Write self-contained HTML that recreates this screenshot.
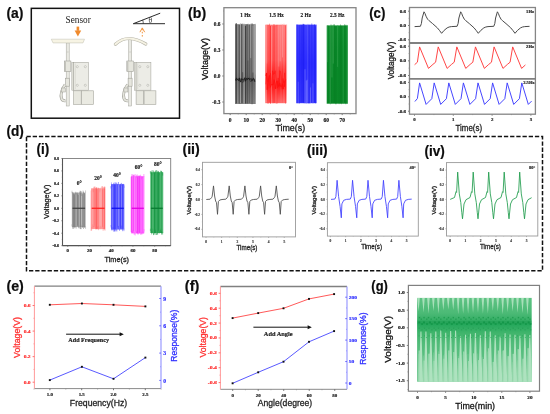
<!DOCTYPE html>
<html><head><meta charset="utf-8"><style>
html,body{margin:0;padding:0;background:#fff;width:550px;height:414px;overflow:hidden}
svg{display:block;will-change:transform;filter:blur(0.3px)}
</style></head><body>
<svg width="550" height="414" viewBox="0 0 550 414">
<rect width="550" height="414" fill="#fff"/>
<text x="6.43" y="17.83" font-size="14" font-family='"Liberation Sans", sans-serif' fill="#0d0d0d" text-anchor="start" font-weight="bold" textLength="17.04" lengthAdjust="spacingAndGlyphs" stroke="#0d0d0d" stroke-width="0.2">(a)</text>
<rect x="31.3" y="8.35" width="148.2" height="109.85" fill="none" stroke="#111" stroke-width="1.5"/>
<text x="65.6" y="23" font-size="9.8" font-family='"Liberation Serif", serif' fill="#1a1a1a" text-anchor="start" textLength="25.2" lengthAdjust="spacingAndGlyphs">Sensor</text>
<rect x="76.6" y="26.6" width="2.6" height="4.2" fill="#f08a2c"/>
<path d="M74.6,30.6 L81.2,30.6 L77.9,36.4" stroke="none" stroke-width="0" fill="#f08a2c"/>
<rect x="66.2" y="42.9" width="3" height="63.1" fill="#e9e9e3" stroke="#a4a49c" stroke-width="0.5"/>
<line x1="66.7" y1="52" x2="68.7" y2="52" stroke="#c0c0b8" stroke-width="0.6"/>
<rect x="71.8" y="62.3" width="2" height="27.9" fill="#e0e0d8" stroke="#a4a49c" stroke-width="0.45"/>
<rect x="73.6" y="62.3" width="14.8" height="27.9" fill="#ecece6" stroke="#a4a49c" stroke-width="0.55"/>
<line x1="75.2" y1="63.5" x2="75.2" y2="89" stroke="#c8c8c0" stroke-width="0.5"/>
<circle cx="77.3" cy="66.7" r="1.05" fill="#f2f2ee" stroke="#aaaaa2" stroke-width="0.5"/>
<circle cx="85.3" cy="66.7" r="1.05" fill="#f2f2ee" stroke="#aaaaa2" stroke-width="0.5"/>
<circle cx="77.3" cy="85.3" r="1.05" fill="#f2f2ee" stroke="#aaaaa2" stroke-width="0.5"/>
<circle cx="85.3" cy="85.3" r="1.05" fill="#f2f2ee" stroke="#aaaaa2" stroke-width="0.5"/>
<rect x="64.3" y="61" width="6.6" height="10.6" fill="#e6e6de" stroke="#9c9c94" stroke-width="0.55"/>
<line x1="65.3" y1="61.5" x2="65.3" y2="71.2" stroke="#b0b0a8" stroke-width="0.8"/>
<rect x="65.6" y="78.2" width="4" height="8" fill="#e6e6de" stroke="#9c9c94" stroke-width="0.55"/>
<rect x="73.6" y="90.8" width="7.6" height="13.6" fill="#e8e8e0" stroke="#a4a49c" stroke-width="0.6"/>
<rect x="81.6" y="90.8" width="11.8" height="13.6" fill="#eaeae2" stroke="#a4a49c" stroke-width="0.6"/>
<path d="M65.2,84.5 C62,89 60.2,95 61.5,98.5 C62.3,100.5 64,101 65.5,100.8" stroke="#a0a098" stroke-width="3" fill="none"/>
<path d="M65.2,84.5 C62,89 60.2,95 61.5,98.5 C62.3,100.5 64,101 65.5,100.8" stroke="#e4e4dc" stroke-width="1.9" fill="none"/>
<rect x="61.4" y="88" width="4" height="4" fill="#e2e2da" stroke="#a0a098" stroke-width="0.5"/>
<path d="M51.3,39.2 L84.5,39.2 L83,42.9 L53,42.9 L51.3,39.2" stroke="#bebcae" stroke-width="0.5" fill="#f7f4e4"/>
<rect x="128.7" y="39" width="3" height="67" fill="#e9e9e3" stroke="#a4a49c" stroke-width="0.5"/>
<line x1="129.2" y1="52" x2="131.2" y2="52" stroke="#c0c0b8" stroke-width="0.6"/>
<rect x="134.3" y="62.3" width="2" height="27.9" fill="#e0e0d8" stroke="#a4a49c" stroke-width="0.45"/>
<rect x="136.1" y="62.3" width="14.8" height="27.9" fill="#ecece6" stroke="#a4a49c" stroke-width="0.55"/>
<line x1="137.7" y1="63.5" x2="137.7" y2="89" stroke="#c8c8c0" stroke-width="0.5"/>
<circle cx="139.8" cy="66.7" r="1.05" fill="#f2f2ee" stroke="#aaaaa2" stroke-width="0.5"/>
<circle cx="147.8" cy="66.7" r="1.05" fill="#f2f2ee" stroke="#aaaaa2" stroke-width="0.5"/>
<circle cx="139.8" cy="85.3" r="1.05" fill="#f2f2ee" stroke="#aaaaa2" stroke-width="0.5"/>
<circle cx="147.8" cy="85.3" r="1.05" fill="#f2f2ee" stroke="#aaaaa2" stroke-width="0.5"/>
<rect x="126.8" y="61" width="6.6" height="10.6" fill="#e6e6de" stroke="#9c9c94" stroke-width="0.55"/>
<line x1="127.8" y1="61.5" x2="127.8" y2="71.2" stroke="#b0b0a8" stroke-width="0.8"/>
<rect x="128.1" y="78.2" width="4" height="8" fill="#e6e6de" stroke="#9c9c94" stroke-width="0.55"/>
<rect x="136.1" y="90.8" width="7.6" height="13.6" fill="#e8e8e0" stroke="#a4a49c" stroke-width="0.6"/>
<rect x="144.1" y="90.8" width="11.8" height="13.6" fill="#eaeae2" stroke="#a4a49c" stroke-width="0.6"/>
<path d="M127.7,84.5 C124.5,89 122.7,95 124,98.5 C124.8,100.5 126.5,101 128,100.8" stroke="#a0a098" stroke-width="3" fill="none"/>
<path d="M127.7,84.5 C124.5,89 122.7,95 124,98.5 C124.8,100.5 126.5,101 128,100.8" stroke="#e4e4dc" stroke-width="1.9" fill="none"/>
<rect x="123.9" y="88" width="4" height="4" fill="#e2e2da" stroke="#a0a098" stroke-width="0.5"/>
<path d="M115.4,44.2 C119,41 124,38.4 129.7,38.5 C135,38.6 141,41.2 145.8,44" stroke="#b8b6aa" stroke-width="3.2" fill="none" stroke-linecap="round"/>
<path d="M115.4,44.2 C119,41 124,38.4 129.7,38.5 C135,38.6 141,41.2 145.8,44" stroke="#f6f3e4" stroke-width="2" fill="none" stroke-linecap="round"/>
<line x1="133.3" y1="23.7" x2="165" y2="23.7" stroke="#2a2a2a" stroke-width="1"/>
<line x1="133.3" y1="23.7" x2="160.2" y2="13.2" stroke="#2a2a2a" stroke-width="1"/>
<path d="M143.3,23.7 A10,10 0 0 0 142.6,19.9" stroke="#2a2a2a" stroke-width="0.7" fill="none"/>
<text x="150.2" y="22.6" font-size="7.5" font-family='"Liberation Serif", serif' fill="#333" text-anchor="middle">θ</text>
<path d="M139.9,32.2 L142.3,27.9 L144.7,32.2" stroke="#f08a2c" stroke-width="0.9" fill="none"/>
<line x1="142.3" y1="28.6" x2="142.3" y2="37.6" stroke="#f08a2c" stroke-width="0.9" stroke-dasharray="1.6,1.6"/>
<text x="188.13" y="17.83" font-size="14" font-family='"Liberation Sans", sans-serif' fill="#0d0d0d" text-anchor="start" font-weight="bold" textLength="18.04" lengthAdjust="spacingAndGlyphs" stroke="#0d0d0d" stroke-width="0.2">(b)</text>
<line x1="222.3" y1="23.98" x2="223.9" y2="23.98" stroke="#555" stroke-width="0.8"/>
<text x="220.4" y="25.74" font-size="5.2" font-family='"Liberation Serif", serif' fill="#1a1a1a" text-anchor="end" font-weight="bold" textLength="6.63" lengthAdjust="spacingAndGlyphs" stroke="#1a1a1a" stroke-width="0.18">0.6</text>
<line x1="222.3" y1="49.99" x2="223.9" y2="49.99" stroke="#555" stroke-width="0.8"/>
<text x="220.4" y="51.75" font-size="5.2" font-family='"Liberation Serif", serif' fill="#1a1a1a" text-anchor="end" font-weight="bold" textLength="6.63" lengthAdjust="spacingAndGlyphs" stroke="#1a1a1a" stroke-width="0.18">0.3</text>
<line x1="222.3" y1="76" x2="223.9" y2="76" stroke="#555" stroke-width="0.8"/>
<text x="220.4" y="77.76" font-size="5.2" font-family='"Liberation Serif", serif' fill="#1a1a1a" text-anchor="end" font-weight="bold" textLength="6.63" lengthAdjust="spacingAndGlyphs" stroke="#1a1a1a" stroke-width="0.18">0.0</text>
<line x1="222.3" y1="102.01" x2="223.9" y2="102.01" stroke="#555" stroke-width="0.8"/>
<text x="220.4" y="103.77" font-size="5.2" font-family='"Liberation Serif", serif' fill="#1a1a1a" text-anchor="end" font-weight="bold" textLength="8.4" lengthAdjust="spacingAndGlyphs" stroke="#1a1a1a" stroke-width="0.18">-0.3</text>
<line x1="223" y1="10.97" x2="223.9" y2="10.97" stroke="#777" stroke-width="0.6"/>
<line x1="223" y1="36.98" x2="223.9" y2="36.98" stroke="#777" stroke-width="0.6"/>
<line x1="223" y1="62.99" x2="223.9" y2="62.99" stroke="#777" stroke-width="0.6"/>
<line x1="223" y1="89" x2="223.9" y2="89" stroke="#777" stroke-width="0.6"/>
<line x1="230.2" y1="113.6" x2="230.2" y2="115.1" stroke="#555" stroke-width="0.8"/>
<text x="230.2" y="121.76" font-size="5.5" font-family='"Liberation Serif", serif' fill="#1a1a1a" text-anchor="middle" font-weight="bold" textLength="2.75" lengthAdjust="spacingAndGlyphs" stroke="#1a1a1a" stroke-width="0.18">0</text>
<line x1="246.2" y1="113.6" x2="246.2" y2="115.1" stroke="#555" stroke-width="0.8"/>
<text x="246.2" y="121.76" font-size="5.5" font-family='"Liberation Serif", serif' fill="#1a1a1a" text-anchor="middle" font-weight="bold" textLength="5.5" lengthAdjust="spacingAndGlyphs" stroke="#1a1a1a" stroke-width="0.18">10</text>
<line x1="262.2" y1="113.6" x2="262.2" y2="115.1" stroke="#555" stroke-width="0.8"/>
<text x="262.2" y="121.76" font-size="5.5" font-family='"Liberation Serif", serif' fill="#1a1a1a" text-anchor="middle" font-weight="bold" textLength="5.5" lengthAdjust="spacingAndGlyphs" stroke="#1a1a1a" stroke-width="0.18">20</text>
<line x1="278.2" y1="113.6" x2="278.2" y2="115.1" stroke="#555" stroke-width="0.8"/>
<text x="278.2" y="121.76" font-size="5.5" font-family='"Liberation Serif", serif' fill="#1a1a1a" text-anchor="middle" font-weight="bold" textLength="5.5" lengthAdjust="spacingAndGlyphs" stroke="#1a1a1a" stroke-width="0.18">30</text>
<line x1="294.2" y1="113.6" x2="294.2" y2="115.1" stroke="#555" stroke-width="0.8"/>
<text x="294.2" y="121.76" font-size="5.5" font-family='"Liberation Serif", serif' fill="#1a1a1a" text-anchor="middle" font-weight="bold" textLength="5.5" lengthAdjust="spacingAndGlyphs" stroke="#1a1a1a" stroke-width="0.18">40</text>
<line x1="310.2" y1="113.6" x2="310.2" y2="115.1" stroke="#555" stroke-width="0.8"/>
<text x="310.2" y="121.76" font-size="5.5" font-family='"Liberation Serif", serif' fill="#1a1a1a" text-anchor="middle" font-weight="bold" textLength="5.5" lengthAdjust="spacingAndGlyphs" stroke="#1a1a1a" stroke-width="0.18">50</text>
<line x1="326.2" y1="113.6" x2="326.2" y2="115.1" stroke="#555" stroke-width="0.8"/>
<text x="326.2" y="121.76" font-size="5.5" font-family='"Liberation Serif", serif' fill="#1a1a1a" text-anchor="middle" font-weight="bold" textLength="5.5" lengthAdjust="spacingAndGlyphs" stroke="#1a1a1a" stroke-width="0.18">60</text>
<line x1="342.2" y1="113.6" x2="342.2" y2="115.1" stroke="#555" stroke-width="0.8"/>
<text x="342.2" y="121.76" font-size="5.5" font-family='"Liberation Serif", serif' fill="#1a1a1a" text-anchor="middle" font-weight="bold" textLength="5.5" lengthAdjust="spacingAndGlyphs" stroke="#1a1a1a" stroke-width="0.18">70</text>
<line x1="238.2" y1="113.6" x2="238.2" y2="114.5" stroke="#777" stroke-width="0.6"/>
<line x1="254.2" y1="113.6" x2="254.2" y2="114.5" stroke="#777" stroke-width="0.6"/>
<line x1="270.2" y1="113.6" x2="270.2" y2="114.5" stroke="#777" stroke-width="0.6"/>
<line x1="286.2" y1="113.6" x2="286.2" y2="114.5" stroke="#777" stroke-width="0.6"/>
<line x1="302.2" y1="113.6" x2="302.2" y2="114.5" stroke="#777" stroke-width="0.6"/>
<line x1="318.2" y1="113.6" x2="318.2" y2="114.5" stroke="#777" stroke-width="0.6"/>
<line x1="334.2" y1="113.6" x2="334.2" y2="114.5" stroke="#777" stroke-width="0.6"/>
<line x1="350.2" y1="113.6" x2="350.2" y2="114.5" stroke="#777" stroke-width="0.6"/>
<text x="207.81" y="58.9" font-size="8.9" font-family='"Liberation Sans", sans-serif' fill="#111" text-anchor="middle" textLength="42" lengthAdjust="spacingAndGlyphs" transform="rotate(-90 207.81 58.9)" stroke="#111" stroke-width="0.28">Voltage(V)</text>
<text x="290.3" y="130.9" font-size="8.9" font-family='"Liberation Sans", sans-serif' fill="#1a1a1a" text-anchor="middle" textLength="29.7" lengthAdjust="spacingAndGlyphs" stroke="#1a1a1a" stroke-width="0.28">Time(s)</text>
<defs><linearGradient id="g3" x1="0" y1="0" x2="0" y2="1"><stop offset="0" stop-color="#7c7c7c"/><stop offset="0.6" stop-color="#727272"/><stop offset="0.7" stop-color="#686868"/><stop offset="1" stop-color="#808080"/></linearGradient></defs>
<rect x="235.2" y="24.2" width="20.5" height="79.8" fill="url(#g3)"/>
<line x1="235.87" y1="23.35" x2="235.87" y2="103.8" stroke="#2e2e2e" stroke-width="0.74" opacity="0.80"/>
<line x1="236.66" y1="23" x2="236.66" y2="103.07" stroke="#2e2e2e" stroke-width="0.59" opacity="0.95"/>
<line x1="237.88" y1="25.3" x2="237.88" y2="103.94" stroke="#b8b8b8" stroke-width="0.59" opacity="0.65"/>
<line x1="239.25" y1="24.91" x2="239.25" y2="103.5" stroke="#2e2e2e" stroke-width="0.8" opacity="0.79"/>
<line x1="240.39" y1="23.02" x2="240.39" y2="102.99" stroke="#b8b8b8" stroke-width="0.93" opacity="0.75"/>
<line x1="241.99" y1="23.74" x2="241.99" y2="103.17" stroke="#2e2e2e" stroke-width="0.87" opacity="0.90"/>
<line x1="242.82" y1="23.15" x2="242.82" y2="72.2" stroke="#b8b8b8" stroke-width="0.76" opacity="0.65"/>
<line x1="244.11" y1="23.62" x2="244.11" y2="103.7" stroke="#b8b8b8" stroke-width="1.04" opacity="0.67"/>
<line x1="245.58" y1="25.96" x2="245.58" y2="103.5" stroke="#2e2e2e" stroke-width="0.84" opacity="0.94"/>
<line x1="247.19" y1="24.29" x2="247.19" y2="103.39" stroke="#2e2e2e" stroke-width="0.83" opacity="0.78"/>
<line x1="248.11" y1="23.05" x2="248.11" y2="60.56" stroke="#b8b8b8" stroke-width="0.55" opacity="0.72"/>
<line x1="249.27" y1="25.02" x2="249.27" y2="102.97" stroke="#2e2e2e" stroke-width="0.75" opacity="0.57"/>
<line x1="250.74" y1="23.57" x2="250.74" y2="58.15" stroke="#b8b8b8" stroke-width="0.8" opacity="0.80"/>
<line x1="252.05" y1="23.02" x2="252.05" y2="104.42" stroke="#2e2e2e" stroke-width="0.74" opacity="0.61"/>
<line x1="253.04" y1="25.43" x2="253.04" y2="72.62" stroke="#b8b8b8" stroke-width="1.04" opacity="0.55"/>
<line x1="254.43" y1="24.38" x2="254.43" y2="79.15" stroke="#b8b8b8" stroke-width="1.06" opacity="0.60"/>
<line x1="255.33" y1="23.5" x2="255.33" y2="74.57" stroke="#b8b8b8" stroke-width="0.83" opacity="0.40"/>
<path d="M235.7,80.49 L236.52,77.88 L237.33,79.79 L238.17,79.26 L239.02,81.07 L239.53,77.88 L240.37,82.13 L241,79.74 L241.79,79.1 L242.48,79.07 L243.16,80.4 L243.81,79.37 L244.7,77.73 L245.48,81.06 L246.14,78.65 L247.04,78.72 L247.63,79.65 L248.48,78.08 L249.14,79.17 L250.06,79.66 L250.99,78.4 L251.65,80.66 L252.6,79.72 L253.21,78.17 L253.97,78.5 L254.88,81.54" stroke="#1a1a1a" stroke-width="0.9" fill="none" opacity="0.9"/>
<path d="M235.7,78.91 L236.6,80.62 L237.51,79.22 L238.07,78.97 L238.97,78.87 L239.64,79.56 L240.35,79.52 L241.31,78.33 L241.81,82.03 L242.75,82.24 L243.47,82.07 L244.44,78.64 L245.31,81.53 L246.14,80.04 L246.78,79.2 L247.4,77.92 L248.19,78.95 L249.1,77.81 L250.05,80.86 L251.01,81.81 L251.96,80.31 L252.47,81.1 L253.05,79.01 L253.88,80.07 L254.59,82.01" stroke="#1a1a1a" stroke-width="0.7" fill="none" opacity="0.7"/>
<defs><linearGradient id="g5" x1="0" y1="0" x2="0" y2="1"><stop offset="0" stop-color="#ff7a7a"/><stop offset="0.45" stop-color="#ff6060"/><stop offset="0.6" stop-color="#ff3030"/><stop offset="0.8" stop-color="#ff2020"/><stop offset="1" stop-color="#ff6a6a"/></linearGradient></defs>
<rect x="265.3" y="24.7" width="21.2" height="78.5" fill="url(#g5)"/>
<line x1="266.13" y1="24.97" x2="266.13" y2="102.52" stroke="#ffa0a0" stroke-width="1.07" opacity="0.70"/>
<line x1="266.95" y1="24.45" x2="266.95" y2="63.54" stroke="#ffa0a0" stroke-width="1.04" opacity="0.45"/>
<line x1="268.02" y1="24.8" x2="268.02" y2="103.8" stroke="#ff2828" stroke-width="0.61" opacity="0.92"/>
<line x1="269.58" y1="23.69" x2="269.58" y2="102.38" stroke="#ff2828" stroke-width="0.75" opacity="0.60"/>
<line x1="270.45" y1="25.94" x2="270.45" y2="103.61" stroke="#ff2828" stroke-width="0.89" opacity="0.90"/>
<line x1="271.38" y1="26.33" x2="271.38" y2="103.01" stroke="#ffa0a0" stroke-width="0.62" opacity="0.78"/>
<line x1="273.02" y1="26.03" x2="273.02" y2="103.47" stroke="#ff2828" stroke-width="0.57" opacity="0.61"/>
<line x1="273.98" y1="24" x2="273.98" y2="102.86" stroke="#ff2828" stroke-width="0.77" opacity="0.69"/>
<line x1="275.02" y1="25.72" x2="275.02" y2="103.13" stroke="#ff2828" stroke-width="0.69" opacity="0.83"/>
<line x1="276.03" y1="26.39" x2="276.03" y2="103.79" stroke="#ffa0a0" stroke-width="1.01" opacity="0.41"/>
<line x1="276.94" y1="24.82" x2="276.94" y2="103.8" stroke="#ff2828" stroke-width="0.57" opacity="0.93"/>
<line x1="277.99" y1="25.47" x2="277.99" y2="80.53" stroke="#ffa0a0" stroke-width="0.71" opacity="0.54"/>
<line x1="278.79" y1="25.44" x2="278.79" y2="66.56" stroke="#ffa0a0" stroke-width="0.52" opacity="0.78"/>
<line x1="280.29" y1="26.14" x2="280.29" y2="61.32" stroke="#ffa0a0" stroke-width="0.83" opacity="0.52"/>
<line x1="281.05" y1="23.67" x2="281.05" y2="102.66" stroke="#ffa0a0" stroke-width="0.6" opacity="0.42"/>
<line x1="282.53" y1="24.28" x2="282.53" y2="57.41" stroke="#ffa0a0" stroke-width="1" opacity="0.58"/>
<line x1="283.94" y1="23.52" x2="283.94" y2="103.11" stroke="#ffa0a0" stroke-width="0.58" opacity="0.69"/>
<line x1="285.3" y1="25.6" x2="285.3" y2="103.73" stroke="#ff2828" stroke-width="0.56" opacity="0.89"/>
<line x1="286.63" y1="24.42" x2="286.63" y2="79.05" stroke="#ffa0a0" stroke-width="1.09" opacity="0.58"/>
<path d="M265.8,75.82 L266.5,72.93 L267.19,89.77 L268.17,82.54 L268.92,76.77 L269.46,75.45 L270.36,87.35 L271.04,85.72 L271.92,83.89 L272.76,85.19 L273.44,84.09 L274.08,79.71 L274.96,83.82 L275.61,88.91 L276.43,81.61 L276.94,80.94 L277.57,83.43 L278.3,86.33 L279.12,85.95 L279.79,82.88 L280.66,86.56 L281.34,86.86 L282.27,83.77 L283.26,89.13 L284.02,80.59 L284.6,86.73 L285.57,79.54" stroke="#ff1010" stroke-width="0.9" fill="none" opacity="0.9"/>
<path d="M265.8,84.39 L266.67,73.44 L267.56,81.62 L268.39,78.42 L269.2,85.49 L270.02,84.41 L270.53,73.2 L271.25,83 L271.86,83.72 L272.68,70.84 L273.41,74.52 L273.94,72.67 L274.6,73.63 L275.2,70.71 L275.93,77.61 L276.73,81.8 L277.35,88.06 L277.85,78.11 L278.49,78.2 L279.05,86.63 L279.74,70.72 L280.54,71.9 L281.32,76.79 L282.11,89.17 L283.02,78.38 L283.92,82.85 L284.61,72.84 L285.41,81.28" stroke="#ff1010" stroke-width="0.7" fill="none" opacity="0.7"/>
<defs><linearGradient id="g9" x1="0" y1="0" x2="0" y2="1"><stop offset="0" stop-color="#4040ff"/><stop offset="0.5" stop-color="#2c2cff"/><stop offset="1" stop-color="#3a3aff"/></linearGradient></defs>
<rect x="296.3" y="24.6" width="20.3" height="78.6" fill="url(#g9)"/>
<line x1="297.02" y1="24.35" x2="297.02" y2="103.34" stroke="#1c1cf0" stroke-width="0.85" opacity="0.55"/>
<line x1="298.29" y1="81.76" x2="298.29" y2="103.75" stroke="#8484ff" stroke-width="0.87" opacity="0.42"/>
<line x1="299.33" y1="25.25" x2="299.33" y2="103.68" stroke="#1c1cf0" stroke-width="0.54" opacity="0.75"/>
<line x1="301.09" y1="24.76" x2="301.09" y2="102.44" stroke="#1c1cf0" stroke-width="0.8" opacity="0.59"/>
<line x1="302.02" y1="25.06" x2="302.02" y2="102.56" stroke="#1c1cf0" stroke-width="0.54" opacity="0.66"/>
<line x1="303.17" y1="23.85" x2="303.17" y2="102.34" stroke="#1c1cf0" stroke-width="0.85" opacity="0.90"/>
<line x1="303.93" y1="24.1" x2="303.93" y2="103.11" stroke="#1c1cf0" stroke-width="0.67" opacity="0.91"/>
<line x1="305.01" y1="69.3" x2="305.01" y2="103.72" stroke="#8484ff" stroke-width="1.04" opacity="0.48"/>
<line x1="306.3" y1="80.46" x2="306.3" y2="103.75" stroke="#8484ff" stroke-width="1.05" opacity="0.57"/>
<line x1="307.2" y1="79.81" x2="307.2" y2="103.66" stroke="#8484ff" stroke-width="1.07" opacity="0.42"/>
<line x1="307.88" y1="23.82" x2="307.88" y2="101.82" stroke="#8484ff" stroke-width="0.57" opacity="0.68"/>
<line x1="308.99" y1="24.83" x2="308.99" y2="103.78" stroke="#1c1cf0" stroke-width="0.77" opacity="0.79"/>
<line x1="310.53" y1="87.44" x2="310.53" y2="103.39" stroke="#8484ff" stroke-width="0.85" opacity="0.58"/>
<line x1="311.76" y1="23.41" x2="311.76" y2="102.37" stroke="#1c1cf0" stroke-width="0.67" opacity="0.64"/>
<line x1="312.9" y1="83.31" x2="312.9" y2="103.75" stroke="#8484ff" stroke-width="0.56" opacity="0.71"/>
<line x1="314.55" y1="24.45" x2="314.55" y2="102.6" stroke="#1c1cf0" stroke-width="0.8" opacity="0.72"/>
<line x1="315.58" y1="26.24" x2="315.58" y2="103.29" stroke="#1c1cf0" stroke-width="0.84" opacity="0.70"/>
<defs><linearGradient id="g11" x1="0" y1="0" x2="0" y2="1"><stop offset="0" stop-color="#109030"/><stop offset="0.3" stop-color="#0a8a2a"/><stop offset="1" stop-color="#0a8828"/></linearGradient></defs>
<rect x="326.7" y="25.4" width="21.1" height="78.3" fill="url(#g11)"/>
<line x1="327.39" y1="25.11" x2="327.39" y2="62.16" stroke="#40a858" stroke-width="0.78" opacity="0.60"/>
<line x1="328.57" y1="25.7" x2="328.57" y2="102.89" stroke="#067a20" stroke-width="0.62" opacity="0.59"/>
<line x1="330.33" y1="25.93" x2="330.33" y2="104.28" stroke="#40a858" stroke-width="1.08" opacity="0.66"/>
<line x1="331.02" y1="24.21" x2="331.02" y2="103.53" stroke="#067a20" stroke-width="0.58" opacity="0.65"/>
<line x1="331.96" y1="25.15" x2="331.96" y2="77.46" stroke="#40a858" stroke-width="0.81" opacity="0.66"/>
<line x1="333.27" y1="24.64" x2="333.27" y2="63.6" stroke="#40a858" stroke-width="1" opacity="0.68"/>
<line x1="334.25" y1="24.26" x2="334.25" y2="102.96" stroke="#067a20" stroke-width="0.84" opacity="0.70"/>
<line x1="335.92" y1="26.54" x2="335.92" y2="104.3" stroke="#067a20" stroke-width="0.86" opacity="0.74"/>
<line x1="337.66" y1="24.95" x2="337.66" y2="66.9" stroke="#40a858" stroke-width="0.97" opacity="0.51"/>
<line x1="339.11" y1="26.18" x2="339.11" y2="104.22" stroke="#067a20" stroke-width="0.54" opacity="0.57"/>
<line x1="340.65" y1="24.42" x2="340.65" y2="103.46" stroke="#067a20" stroke-width="0.58" opacity="0.84"/>
<line x1="341.57" y1="25.75" x2="341.57" y2="104.22" stroke="#067a20" stroke-width="0.59" opacity="0.66"/>
<line x1="343.26" y1="26.36" x2="343.26" y2="103.96" stroke="#40a858" stroke-width="0.63" opacity="0.56"/>
<line x1="344.63" y1="24.3" x2="344.63" y2="102.33" stroke="#067a20" stroke-width="0.6" opacity="0.86"/>
<line x1="345.79" y1="24.68" x2="345.79" y2="104.26" stroke="#067a20" stroke-width="0.73" opacity="0.65"/>
<line x1="347.16" y1="24.88" x2="347.16" y2="103.69" stroke="#40a858" stroke-width="0.79" opacity="0.63"/>
<rect x="223.9" y="7.7" width="132.1" height="105.9" fill="none" stroke="#858585" stroke-width="1.3"/>
<text x="245.5" y="17.3" font-size="5.3" font-family='"Liberation Serif", serif' fill="#222" text-anchor="middle" font-weight="bold" stroke="#222" stroke-width="0.18">1 Hz</text>
<text x="276.4" y="17.3" font-size="5.3" font-family='"Liberation Serif", serif' fill="#222" text-anchor="middle" font-weight="bold" stroke="#222" stroke-width="0.18">1.5 Hz</text>
<text x="305.8" y="17.3" font-size="5.3" font-family='"Liberation Serif", serif' fill="#222" text-anchor="middle" font-weight="bold" stroke="#222" stroke-width="0.18">2 Hz</text>
<text x="337.2" y="17.3" font-size="5.3" font-family='"Liberation Serif", serif' fill="#222" text-anchor="middle" font-weight="bold" stroke="#222" stroke-width="0.18">2.5 Hz</text>
<text x="369.13" y="17.83" font-size="14" font-family='"Liberation Sans", sans-serif' fill="#0d0d0d" text-anchor="start" font-weight="bold" textLength="16.24" lengthAdjust="spacingAndGlyphs" stroke="#0d0d0d" stroke-width="0.2">(c)</text>
<line x1="408" y1="11.2" x2="409.5" y2="11.2" stroke="#555" stroke-width="0.8"/>
<text x="406.1" y="12.72" font-size="4.5" font-family='"Liberation Serif", serif' fill="#1a1a1a" text-anchor="end" font-weight="bold" textLength="6.36" lengthAdjust="spacingAndGlyphs" stroke="#1a1a1a" stroke-width="0.18">0.6</text>
<line x1="408" y1="25.5" x2="409.5" y2="25.5" stroke="#555" stroke-width="0.8"/>
<text x="406.1" y="27.02" font-size="4.5" font-family='"Liberation Serif", serif' fill="#1a1a1a" text-anchor="end" font-weight="bold" textLength="6.36" lengthAdjust="spacingAndGlyphs" stroke="#1a1a1a" stroke-width="0.18">0.0</text>
<line x1="408" y1="39.8" x2="409.5" y2="39.8" stroke="#555" stroke-width="0.8"/>
<text x="406.1" y="41.32" font-size="4.5" font-family='"Liberation Serif", serif' fill="#1a1a1a" text-anchor="end" font-weight="bold" textLength="8.05" lengthAdjust="spacingAndGlyphs" stroke="#1a1a1a" stroke-width="0.18">-0.6</text>
<line x1="408.6" y1="18.35" x2="409.5" y2="18.35" stroke="#777" stroke-width="0.6"/>
<line x1="408.6" y1="32.65" x2="409.5" y2="32.65" stroke="#777" stroke-width="0.6"/>
<line x1="408" y1="46.2" x2="409.5" y2="46.2" stroke="#555" stroke-width="0.8"/>
<text x="406.1" y="47.72" font-size="4.5" font-family='"Liberation Serif", serif' fill="#1a1a1a" text-anchor="end" font-weight="bold" textLength="6.36" lengthAdjust="spacingAndGlyphs" stroke="#1a1a1a" stroke-width="0.18">0.6</text>
<line x1="408" y1="60.85" x2="409.5" y2="60.85" stroke="#555" stroke-width="0.8"/>
<text x="406.1" y="62.37" font-size="4.5" font-family='"Liberation Serif", serif' fill="#1a1a1a" text-anchor="end" font-weight="bold" textLength="6.36" lengthAdjust="spacingAndGlyphs" stroke="#1a1a1a" stroke-width="0.18">0.0</text>
<line x1="408" y1="75.5" x2="409.5" y2="75.5" stroke="#555" stroke-width="0.8"/>
<text x="406.1" y="77.02" font-size="4.5" font-family='"Liberation Serif", serif' fill="#1a1a1a" text-anchor="end" font-weight="bold" textLength="8.05" lengthAdjust="spacingAndGlyphs" stroke="#1a1a1a" stroke-width="0.18">-0.6</text>
<line x1="408.6" y1="53.52" x2="409.5" y2="53.52" stroke="#777" stroke-width="0.6"/>
<line x1="408.6" y1="68.17" x2="409.5" y2="68.17" stroke="#777" stroke-width="0.6"/>
<line x1="408" y1="82.4" x2="409.5" y2="82.4" stroke="#555" stroke-width="0.8"/>
<text x="406.1" y="83.92" font-size="4.5" font-family='"Liberation Serif", serif' fill="#1a1a1a" text-anchor="end" font-weight="bold" textLength="6.36" lengthAdjust="spacingAndGlyphs" stroke="#1a1a1a" stroke-width="0.18">0.6</text>
<line x1="408" y1="96.8" x2="409.5" y2="96.8" stroke="#555" stroke-width="0.8"/>
<text x="406.1" y="98.32" font-size="4.5" font-family='"Liberation Serif", serif' fill="#1a1a1a" text-anchor="end" font-weight="bold" textLength="6.36" lengthAdjust="spacingAndGlyphs" stroke="#1a1a1a" stroke-width="0.18">0.0</text>
<line x1="408" y1="111.2" x2="409.5" y2="111.2" stroke="#555" stroke-width="0.8"/>
<text x="406.1" y="112.72" font-size="4.5" font-family='"Liberation Serif", serif' fill="#1a1a1a" text-anchor="end" font-weight="bold" textLength="8.05" lengthAdjust="spacingAndGlyphs" stroke="#1a1a1a" stroke-width="0.18">-0.6</text>
<line x1="408.6" y1="89.6" x2="409.5" y2="89.6" stroke="#777" stroke-width="0.6"/>
<line x1="408.6" y1="104" x2="409.5" y2="104" stroke="#777" stroke-width="0.6"/>
<line x1="414.5" y1="114.2" x2="414.5" y2="115.7" stroke="#555" stroke-width="0.8"/>
<text x="414.5" y="121.46" font-size="4.9" font-family='"Liberation Serif", serif' fill="#1a1a1a" text-anchor="middle" font-weight="bold" textLength="2.45" lengthAdjust="spacingAndGlyphs" stroke="#1a1a1a" stroke-width="0.18">0</text>
<line x1="453.3" y1="114.2" x2="453.3" y2="115.7" stroke="#555" stroke-width="0.8"/>
<text x="453.3" y="121.46" font-size="4.9" font-family='"Liberation Serif", serif' fill="#1a1a1a" text-anchor="middle" font-weight="bold" textLength="2.45" lengthAdjust="spacingAndGlyphs" stroke="#1a1a1a" stroke-width="0.18">1</text>
<line x1="492.1" y1="114.2" x2="492.1" y2="115.7" stroke="#555" stroke-width="0.8"/>
<text x="492.1" y="121.46" font-size="4.9" font-family='"Liberation Serif", serif' fill="#1a1a1a" text-anchor="middle" font-weight="bold" textLength="2.45" lengthAdjust="spacingAndGlyphs" stroke="#1a1a1a" stroke-width="0.18">2</text>
<line x1="530.9" y1="114.2" x2="530.9" y2="115.7" stroke="#555" stroke-width="0.8"/>
<text x="530.9" y="121.46" font-size="4.9" font-family='"Liberation Serif", serif' fill="#1a1a1a" text-anchor="middle" font-weight="bold" textLength="2.45" lengthAdjust="spacingAndGlyphs" stroke="#1a1a1a" stroke-width="0.18">3</text>
<line x1="433.9" y1="114.2" x2="433.9" y2="115.1" stroke="#777" stroke-width="0.6"/>
<line x1="472.7" y1="114.2" x2="472.7" y2="115.1" stroke="#777" stroke-width="0.6"/>
<line x1="511.5" y1="114.2" x2="511.5" y2="115.1" stroke="#777" stroke-width="0.6"/>
<text x="394.36" y="60.5" font-size="8.3" font-family='"Liberation Sans", sans-serif' fill="#111" text-anchor="middle" textLength="37.7" lengthAdjust="spacingAndGlyphs" transform="rotate(-90 394.36 60.5)" stroke="#111" stroke-width="0.28">Voltage(V)</text>
<text x="468.8" y="130.5" font-size="8.4" font-family='"Liberation Sans", sans-serif' fill="#1a1a1a" text-anchor="middle" textLength="26.5" lengthAdjust="spacingAndGlyphs" stroke="#1a1a1a" stroke-width="0.28">Time(s)</text>
<path d="M414.6,26.6 L420.4,26.3 L421.4,23.5 L422.2,18 L424,11.8 L425,13.5 L426,16.2 L427.6,19.2 L429.1,20.7 L432.6,23.6 L437.3,27.8 L439.6,30.6 L441.6,33.3 L444.1,30.4 L447.1,27.9 L449.1,27 L451.3,26.6 L457.1,26.3 L458.1,23.5 L458.9,18 L460.7,11.8 L461.7,13.5 L462.7,16.2 L464.3,19.2 L465.8,20.7 L469.3,23.6 L474,27.8 L476.3,30.6 L478.3,33.3 L480.8,30.4 L483.8,27.9 L485.8,27 L488,26.6 L493.8,26.3 L494.8,23.5 L495.6,18 L497.4,11.8 L498.4,13.5 L499.4,16.2 L501,19.2 L502.5,20.7 L506,23.6 L510.7,27.8 L513,30.6 L515,33.3 L517.5,30.4 L520.5,27.9 L522.5,27 L524.7,26.6 L529.5,26.35" stroke="#4a4a4a" stroke-width="1" fill="none" stroke-linejoin="round"/>
<path d="M414.6,64.7 L417.4,62.2 L419.6,46.9 L428.5,68.4 L432.9,64.4 L435.6,62.2 L438.22,46.9 L447.12,68.4 L451.52,64.4 L454.22,62.2 L456.84,46.9 L465.74,68.4 L470.14,64.4 L472.84,62.2 L475.46,46.9 L484.36,68.4 L488.76,64.4 L491.46,62.2 L494.08,46.9 L502.98,68.4 L507.38,64.4 L510.08,62.2 L512.7,46.9 L521.6,68.4 L525.4,64.95" stroke="#ff3c3c" stroke-width="0.95" fill="none" stroke-linejoin="round"/>
<path d="M414.9,101.5 L417.4,98.5 L419.6,82.9 L426.1,104.4 L431.8,98.7 L434.2,82.9 L440.7,104.4 L446.4,98.7 L448.8,82.9 L455.3,104.4 L461,98.7 L463.4,82.9 L469.9,104.4 L475.6,98.7 L478,82.9 L484.5,104.4 L490.2,98.7 L492.6,82.9 L499.1,104.4 L504.8,98.7 L507.2,82.9 L513.7,104.4 L519.4,98.7 L521.8,82.9 L528.3,104.4 L531.6,101.1" stroke="#3c3cff" stroke-width="0.95" fill="none" stroke-linejoin="round"/>
<rect x="409.5" y="7.5" width="125.9" height="106.7" fill="none" stroke="#858585" stroke-width="1.3"/>
<line x1="408.9" y1="43" x2="536" y2="43" stroke="#808080" stroke-width="1.8"/>
<line x1="408.9" y1="78.9" x2="536" y2="78.9" stroke="#808080" stroke-width="1.8"/>
<text x="534" y="12.6" font-size="4.6" font-family='"Liberation Serif", serif' fill="#222" text-anchor="end" font-weight="bold" stroke="#222" stroke-width="0.18">1Hz</text>
<text x="534" y="47.8" font-size="4.6" font-family='"Liberation Serif", serif' fill="#222" text-anchor="end" font-weight="bold" stroke="#222" stroke-width="0.18">2Hz</text>
<text x="534.5" y="84" font-size="4.6" font-family='"Liberation Serif", serif' fill="#222" text-anchor="end" font-weight="bold" stroke="#222" stroke-width="0.18">2.5Hz</text>
<text x="6.42" y="136.01" font-size="14.11" font-family='"Liberation Sans", sans-serif' fill="#0d0d0d" text-anchor="start" font-weight="bold" textLength="17.35" lengthAdjust="spacingAndGlyphs" stroke="#0d0d0d" stroke-width="0.2">(d)</text>
<rect x="26.5" y="136.6" width="516" height="134.2" fill="none" stroke="#111" stroke-width="1.5" stroke-dasharray="4.3,1.9"/>
<text x="36.42" y="154.31" font-size="14.11" font-family='"Liberation Sans", sans-serif' fill="#0d0d0d" text-anchor="start" font-weight="bold" textLength="12.75" lengthAdjust="spacingAndGlyphs" stroke="#0d0d0d" stroke-width="0.2">(i)</text>
<text x="182.42" y="154.31" font-size="14.11" font-family='"Liberation Sans", sans-serif' fill="#0d0d0d" text-anchor="start" font-weight="bold" textLength="17.35" lengthAdjust="spacingAndGlyphs" stroke="#0d0d0d" stroke-width="0.2">(ii)</text>
<text x="306.93" y="154.83" font-size="14" font-family='"Liberation Sans", sans-serif' fill="#0d0d0d" text-anchor="start" font-weight="bold" textLength="20.64" lengthAdjust="spacingAndGlyphs" stroke="#0d0d0d" stroke-width="0.2">(iii)</text>
<text x="424.42" y="156.01" font-size="14.11" font-family='"Liberation Sans", sans-serif' fill="#0d0d0d" text-anchor="start" font-weight="bold" textLength="20.35" lengthAdjust="spacingAndGlyphs" stroke="#0d0d0d" stroke-width="0.2">(iv)</text>
<line x1="61.3" y1="158.46" x2="62.5" y2="158.46" stroke="#555" stroke-width="0.6"/>
<text x="59.2" y="159.95" font-size="4.4" font-family='"Liberation Serif", serif' fill="#1a1a1a" text-anchor="end" font-weight="bold" textLength="5.22" lengthAdjust="spacingAndGlyphs" stroke="#1a1a1a" stroke-width="0.18">0.8</text>
<line x1="61.3" y1="170.92" x2="62.5" y2="170.92" stroke="#555" stroke-width="0.6"/>
<text x="59.2" y="172.41" font-size="4.4" font-family='"Liberation Serif", serif' fill="#1a1a1a" text-anchor="end" font-weight="bold" textLength="5.22" lengthAdjust="spacingAndGlyphs" stroke="#1a1a1a" stroke-width="0.18">0.6</text>
<line x1="61.3" y1="183.38" x2="62.5" y2="183.38" stroke="#555" stroke-width="0.6"/>
<text x="59.2" y="184.87" font-size="4.4" font-family='"Liberation Serif", serif' fill="#1a1a1a" text-anchor="end" font-weight="bold" textLength="5.22" lengthAdjust="spacingAndGlyphs" stroke="#1a1a1a" stroke-width="0.18">0.4</text>
<line x1="61.3" y1="195.84" x2="62.5" y2="195.84" stroke="#555" stroke-width="0.6"/>
<text x="59.2" y="197.33" font-size="4.4" font-family='"Liberation Serif", serif' fill="#1a1a1a" text-anchor="end" font-weight="bold" textLength="5.22" lengthAdjust="spacingAndGlyphs" stroke="#1a1a1a" stroke-width="0.18">0.2</text>
<line x1="61.3" y1="208.3" x2="62.5" y2="208.3" stroke="#555" stroke-width="0.6"/>
<text x="59.2" y="209.79" font-size="4.4" font-family='"Liberation Serif", serif' fill="#1a1a1a" text-anchor="end" font-weight="bold" textLength="5.22" lengthAdjust="spacingAndGlyphs" stroke="#1a1a1a" stroke-width="0.18">0.0</text>
<line x1="61.3" y1="220.76" x2="62.5" y2="220.76" stroke="#555" stroke-width="0.6"/>
<text x="59.2" y="222.25" font-size="4.4" font-family='"Liberation Serif", serif' fill="#1a1a1a" text-anchor="end" font-weight="bold" textLength="6.62" lengthAdjust="spacingAndGlyphs" stroke="#1a1a1a" stroke-width="0.18">-0.2</text>
<line x1="61.3" y1="233.22" x2="62.5" y2="233.22" stroke="#555" stroke-width="0.6"/>
<text x="59.2" y="234.71" font-size="4.4" font-family='"Liberation Serif", serif' fill="#1a1a1a" text-anchor="end" font-weight="bold" textLength="6.62" lengthAdjust="spacingAndGlyphs" stroke="#1a1a1a" stroke-width="0.18">-0.4</text>
<line x1="61.3" y1="245.68" x2="62.5" y2="245.68" stroke="#555" stroke-width="0.6"/>
<text x="59.2" y="247.17" font-size="4.4" font-family='"Liberation Serif", serif' fill="#1a1a1a" text-anchor="end" font-weight="bold" textLength="6.62" lengthAdjust="spacingAndGlyphs" stroke="#1a1a1a" stroke-width="0.18">-0.6</text>
<line x1="61.8" y1="164.69" x2="62.5" y2="164.69" stroke="#777" stroke-width="0.5"/>
<line x1="61.8" y1="177.15" x2="62.5" y2="177.15" stroke="#777" stroke-width="0.5"/>
<line x1="61.8" y1="189.61" x2="62.5" y2="189.61" stroke="#777" stroke-width="0.5"/>
<line x1="61.8" y1="202.07" x2="62.5" y2="202.07" stroke="#777" stroke-width="0.5"/>
<line x1="61.8" y1="214.53" x2="62.5" y2="214.53" stroke="#777" stroke-width="0.5"/>
<line x1="61.8" y1="226.99" x2="62.5" y2="226.99" stroke="#777" stroke-width="0.5"/>
<line x1="61.8" y1="239.45" x2="62.5" y2="239.45" stroke="#777" stroke-width="0.5"/>
<line x1="67.7" y1="245.6" x2="67.7" y2="246.8" stroke="#555" stroke-width="0.6"/>
<text x="67.7" y="252.15" font-size="4.6" font-family='"Liberation Serif", serif' fill="#1a1a1a" text-anchor="middle" font-weight="bold" textLength="2.42" lengthAdjust="spacingAndGlyphs" stroke="#1a1a1a" stroke-width="0.18">0</text>
<line x1="89.45" y1="245.6" x2="89.45" y2="246.8" stroke="#555" stroke-width="0.6"/>
<text x="89.45" y="252.15" font-size="4.6" font-family='"Liberation Serif", serif' fill="#1a1a1a" text-anchor="middle" font-weight="bold" textLength="4.83" lengthAdjust="spacingAndGlyphs" stroke="#1a1a1a" stroke-width="0.18">20</text>
<line x1="111.2" y1="245.6" x2="111.2" y2="246.8" stroke="#555" stroke-width="0.6"/>
<text x="111.2" y="252.15" font-size="4.6" font-family='"Liberation Serif", serif' fill="#1a1a1a" text-anchor="middle" font-weight="bold" textLength="4.83" lengthAdjust="spacingAndGlyphs" stroke="#1a1a1a" stroke-width="0.18">40</text>
<line x1="132.95" y1="245.6" x2="132.95" y2="246.8" stroke="#555" stroke-width="0.6"/>
<text x="132.95" y="252.15" font-size="4.6" font-family='"Liberation Serif", serif' fill="#1a1a1a" text-anchor="middle" font-weight="bold" textLength="4.83" lengthAdjust="spacingAndGlyphs" stroke="#1a1a1a" stroke-width="0.18">60</text>
<line x1="154.7" y1="245.6" x2="154.7" y2="246.8" stroke="#555" stroke-width="0.6"/>
<text x="154.7" y="252.15" font-size="4.6" font-family='"Liberation Serif", serif' fill="#1a1a1a" text-anchor="middle" font-weight="bold" textLength="4.83" lengthAdjust="spacingAndGlyphs" stroke="#1a1a1a" stroke-width="0.18">80</text>
<line x1="78.58" y1="245.6" x2="78.58" y2="246.3" stroke="#777" stroke-width="0.5"/>
<line x1="100.33" y1="245.6" x2="100.33" y2="246.3" stroke="#777" stroke-width="0.5"/>
<line x1="122.07" y1="245.6" x2="122.07" y2="246.3" stroke="#777" stroke-width="0.5"/>
<line x1="143.82" y1="245.6" x2="143.82" y2="246.3" stroke="#777" stroke-width="0.5"/>
<line x1="165.57" y1="245.6" x2="165.57" y2="246.3" stroke="#777" stroke-width="0.5"/>
<text x="48.62" y="201.7" font-size="7" font-family='"Liberation Sans", sans-serif' fill="#222" text-anchor="middle" textLength="34.2" lengthAdjust="spacingAndGlyphs" transform="rotate(-90 48.62 201.7)" stroke="#222" stroke-width="0.28">Voltage(V)</text>
<text x="116.8" y="262" font-size="7.4" font-family='"Liberation Sans", sans-serif' fill="#222" text-anchor="middle" textLength="24.5" lengthAdjust="spacingAndGlyphs" stroke="#222" stroke-width="0.28">Time(s)</text>
<rect x="72" y="192.6" width="13.6" height="34.5" fill="#adadad"/>
<line x1="72" y1="192.14" x2="72" y2="226.07" stroke="#cecece" stroke-width="0.72" opacity="0.82"/>
<line x1="72" y1="190.7" x2="72" y2="193.2" stroke="#adadad" stroke-width="0.6"/>
<line x1="72" y1="224.22" x2="72" y2="226.72" stroke="#adadad" stroke-width="0.6"/>
<line x1="72.76" y1="192.02" x2="72.76" y2="228.78" stroke="#6a6a6a" stroke-width="0.61" opacity="0.80"/>
<line x1="73.29" y1="193.58" x2="73.29" y2="228.8" stroke="#6a6a6a" stroke-width="0.51" opacity="0.95"/>
<line x1="74.16" y1="194.08" x2="74.16" y2="227.12" stroke="#6a6a6a" stroke-width="0.6" opacity="0.77"/>
<line x1="74.72" y1="194.58" x2="74.72" y2="228.29" stroke="#6a6a6a" stroke-width="0.75" opacity="0.64"/>
<line x1="75.68" y1="191.77" x2="75.68" y2="227.45" stroke="#6a6a6a" stroke-width="0.65" opacity="0.67"/>
<line x1="76.2" y1="194.65" x2="76.2" y2="225.88" stroke="#cecece" stroke-width="0.76" opacity="0.80"/>
<line x1="76.2" y1="194.03" x2="76.2" y2="196.53" stroke="#adadad" stroke-width="0.6"/>
<line x1="76.2" y1="226.29" x2="76.2" y2="228.79" stroke="#adadad" stroke-width="0.6"/>
<line x1="77.08" y1="192.39" x2="77.08" y2="226.49" stroke="#6a6a6a" stroke-width="0.64" opacity="0.89"/>
<line x1="77.68" y1="194.39" x2="77.68" y2="225.54" stroke="#6a6a6a" stroke-width="0.61" opacity="0.76"/>
<line x1="78.38" y1="194.87" x2="78.38" y2="228.22" stroke="#6a6a6a" stroke-width="0.53" opacity="0.85"/>
<line x1="79.37" y1="194.22" x2="79.37" y2="227.08" stroke="#cecece" stroke-width="0.64" opacity="0.72"/>
<line x1="79.37" y1="191.97" x2="79.37" y2="194.47" stroke="#adadad" stroke-width="0.6"/>
<line x1="79.37" y1="225.25" x2="79.37" y2="227.75" stroke="#adadad" stroke-width="0.6"/>
<line x1="80.18" y1="190.75" x2="80.18" y2="228.98" stroke="#6a6a6a" stroke-width="0.78" opacity="0.72"/>
<line x1="80.98" y1="191.16" x2="80.98" y2="229.15" stroke="#6a6a6a" stroke-width="0.74" opacity="0.87"/>
<line x1="81.67" y1="195.82" x2="81.67" y2="225.58" stroke="#cecece" stroke-width="0.8" opacity="0.88"/>
<line x1="81.67" y1="192.94" x2="81.67" y2="195.44" stroke="#adadad" stroke-width="0.6"/>
<line x1="81.67" y1="224.3" x2="81.67" y2="226.8" stroke="#adadad" stroke-width="0.6"/>
<line x1="82.46" y1="194.13" x2="82.46" y2="227.75" stroke="#6a6a6a" stroke-width="0.57" opacity="0.91"/>
<line x1="83.05" y1="191.93" x2="83.05" y2="223.54" stroke="#cecece" stroke-width="0.42" opacity="0.60"/>
<line x1="83.05" y1="190.48" x2="83.05" y2="192.98" stroke="#adadad" stroke-width="0.6"/>
<line x1="83.05" y1="223.55" x2="83.05" y2="226.05" stroke="#adadad" stroke-width="0.6"/>
<line x1="83.69" y1="191.62" x2="83.69" y2="228.98" stroke="#6a6a6a" stroke-width="0.6" opacity="0.91"/>
<line x1="84.68" y1="193.3" x2="84.68" y2="227.81" stroke="#6a6a6a" stroke-width="0.79" opacity="0.78"/>
<line x1="85.55" y1="192.81" x2="85.55" y2="226.22" stroke="#cecece" stroke-width="0.64" opacity="0.67"/>
<line x1="85.55" y1="190.42" x2="85.55" y2="192.92" stroke="#adadad" stroke-width="0.6"/>
<line x1="85.55" y1="226.36" x2="85.55" y2="228.86" stroke="#adadad" stroke-width="0.6"/>
<rect x="72.5" y="207.6" width="12.6" height="1.4" fill="#404040" opacity="0.9"/>
<rect x="91.2" y="188.4" width="13.9" height="40.5" fill="#ff9292"/>
<line x1="91.2" y1="190.42" x2="91.2" y2="230.86" stroke="#ff5050" stroke-width="0.8" opacity="0.66"/>
<line x1="91.76" y1="189.26" x2="91.76" y2="227.31" stroke="#ffbcbc" stroke-width="0.53" opacity="0.74"/>
<line x1="91.76" y1="188.57" x2="91.76" y2="191.07" stroke="#ff9292" stroke-width="0.6"/>
<line x1="91.76" y1="227.69" x2="91.76" y2="230.19" stroke="#ff9292" stroke-width="0.6"/>
<line x1="92.73" y1="188.9" x2="92.73" y2="224.46" stroke="#ffbcbc" stroke-width="0.64" opacity="0.62"/>
<line x1="92.73" y1="188.75" x2="92.73" y2="191.25" stroke="#ff9292" stroke-width="0.6"/>
<line x1="92.73" y1="224.6" x2="92.73" y2="227.1" stroke="#ff9292" stroke-width="0.6"/>
<line x1="93.32" y1="192.05" x2="93.32" y2="226.21" stroke="#ffbcbc" stroke-width="0.63" opacity="0.78"/>
<line x1="93.32" y1="189.73" x2="93.32" y2="192.23" stroke="#ff9292" stroke-width="0.6"/>
<line x1="93.32" y1="226.6" x2="93.32" y2="229.1" stroke="#ff9292" stroke-width="0.6"/>
<line x1="94.13" y1="186.79" x2="94.13" y2="226.89" stroke="#ff5050" stroke-width="0.73" opacity="0.93"/>
<line x1="94.95" y1="187" x2="94.95" y2="227.58" stroke="#ffbcbc" stroke-width="0.61" opacity="0.51"/>
<line x1="94.95" y1="186.44" x2="94.95" y2="188.94" stroke="#ff9292" stroke-width="0.6"/>
<line x1="94.95" y1="225.23" x2="94.95" y2="227.73" stroke="#ff9292" stroke-width="0.6"/>
<line x1="95.92" y1="187.82" x2="95.92" y2="229.43" stroke="#ff5050" stroke-width="0.7" opacity="0.92"/>
<line x1="96.57" y1="187.23" x2="96.57" y2="229.1" stroke="#ff5050" stroke-width="0.68" opacity="0.79"/>
<line x1="97.29" y1="188.69" x2="97.29" y2="229.37" stroke="#ff5050" stroke-width="0.8" opacity="0.72"/>
<line x1="98" y1="188.89" x2="98" y2="225.87" stroke="#ffbcbc" stroke-width="0.44" opacity="0.86"/>
<line x1="98" y1="187.35" x2="98" y2="189.85" stroke="#ff9292" stroke-width="0.6"/>
<line x1="98" y1="224.57" x2="98" y2="227.07" stroke="#ff9292" stroke-width="0.6"/>
<line x1="98.59" y1="188.02" x2="98.59" y2="230.17" stroke="#ff5050" stroke-width="0.61" opacity="0.67"/>
<line x1="99.11" y1="188.57" x2="99.11" y2="225.82" stroke="#ffbcbc" stroke-width="0.42" opacity="0.66"/>
<line x1="99.11" y1="187.96" x2="99.11" y2="190.46" stroke="#ff9292" stroke-width="0.6"/>
<line x1="99.11" y1="225.4" x2="99.11" y2="227.9" stroke="#ff9292" stroke-width="0.6"/>
<line x1="100.02" y1="191.67" x2="100.02" y2="228.12" stroke="#ffbcbc" stroke-width="0.63" opacity="0.90"/>
<line x1="100.02" y1="190.18" x2="100.02" y2="192.68" stroke="#ff9292" stroke-width="0.6"/>
<line x1="100.02" y1="227.19" x2="100.02" y2="229.69" stroke="#ff9292" stroke-width="0.6"/>
<line x1="100.89" y1="188.73" x2="100.89" y2="225.96" stroke="#ffbcbc" stroke-width="0.73" opacity="0.74"/>
<line x1="100.89" y1="187.66" x2="100.89" y2="190.16" stroke="#ff9292" stroke-width="0.6"/>
<line x1="100.89" y1="225.81" x2="100.89" y2="228.31" stroke="#ff9292" stroke-width="0.6"/>
<line x1="101.86" y1="187.23" x2="101.86" y2="228.99" stroke="#ffbcbc" stroke-width="0.68" opacity="0.67"/>
<line x1="101.86" y1="186.21" x2="101.86" y2="188.71" stroke="#ff9292" stroke-width="0.6"/>
<line x1="101.86" y1="227.01" x2="101.86" y2="229.51" stroke="#ff9292" stroke-width="0.6"/>
<line x1="102.5" y1="186.24" x2="102.5" y2="226.82" stroke="#ff5050" stroke-width="0.54" opacity="0.68"/>
<line x1="103.13" y1="189.83" x2="103.13" y2="230.75" stroke="#ff5050" stroke-width="0.53" opacity="0.76"/>
<line x1="103.73" y1="189.61" x2="103.73" y2="228.15" stroke="#ffbcbc" stroke-width="0.55" opacity="0.84"/>
<line x1="103.73" y1="187.11" x2="103.73" y2="189.61" stroke="#ff9292" stroke-width="0.6"/>
<line x1="103.73" y1="225.76" x2="103.73" y2="228.26" stroke="#ff9292" stroke-width="0.6"/>
<line x1="104.25" y1="186.61" x2="104.25" y2="229.56" stroke="#ff5050" stroke-width="0.73" opacity="0.85"/>
<line x1="104.98" y1="186.76" x2="104.98" y2="230.6" stroke="#ff5050" stroke-width="0.52" opacity="0.83"/>
<rect x="91.7" y="207.6" width="12.9" height="1.4" fill="#ff2020" opacity="0.9"/>
<rect x="111.1" y="184.2" width="13.2" height="45.3" fill="#6262ff"/>
<line x1="111.1" y1="186.25" x2="111.1" y2="225.77" stroke="#a0a0ff" stroke-width="0.57" opacity="0.71"/>
<line x1="111.1" y1="186" x2="111.1" y2="188.5" stroke="#6262ff" stroke-width="0.6"/>
<line x1="111.1" y1="225.04" x2="111.1" y2="227.54" stroke="#6262ff" stroke-width="0.6"/>
<line x1="111.67" y1="182.38" x2="111.67" y2="230.37" stroke="#3434ff" stroke-width="0.64" opacity="0.61"/>
<line x1="112.21" y1="186.89" x2="112.21" y2="229.39" stroke="#a0a0ff" stroke-width="0.42" opacity="0.81"/>
<line x1="112.21" y1="184.69" x2="112.21" y2="187.19" stroke="#6262ff" stroke-width="0.6"/>
<line x1="112.21" y1="227.97" x2="112.21" y2="230.47" stroke="#6262ff" stroke-width="0.6"/>
<line x1="113" y1="185.49" x2="113" y2="227.22" stroke="#a0a0ff" stroke-width="0.55" opacity="0.73"/>
<line x1="113" y1="184.4" x2="113" y2="186.9" stroke="#6262ff" stroke-width="0.6"/>
<line x1="113" y1="227" x2="113" y2="229.5" stroke="#6262ff" stroke-width="0.6"/>
<line x1="113.83" y1="182.79" x2="113.83" y2="231.59" stroke="#3434ff" stroke-width="0.72" opacity="0.81"/>
<line x1="114.56" y1="184.32" x2="114.56" y2="231.35" stroke="#3434ff" stroke-width="0.6" opacity="0.89"/>
<line x1="115.15" y1="182.17" x2="115.15" y2="231.56" stroke="#3434ff" stroke-width="0.58" opacity="0.80"/>
<line x1="116.06" y1="182.86" x2="116.06" y2="230.69" stroke="#3434ff" stroke-width="0.59" opacity="0.87"/>
<line x1="116.84" y1="184.71" x2="116.84" y2="229.06" stroke="#a0a0ff" stroke-width="0.5" opacity="0.72"/>
<line x1="116.84" y1="182.59" x2="116.84" y2="185.09" stroke="#6262ff" stroke-width="0.6"/>
<line x1="116.84" y1="229.04" x2="116.84" y2="231.54" stroke="#6262ff" stroke-width="0.6"/>
<line x1="117.8" y1="184.05" x2="117.8" y2="227.56" stroke="#3434ff" stroke-width="0.79" opacity="0.62"/>
<line x1="118.51" y1="184.94" x2="118.51" y2="226.01" stroke="#a0a0ff" stroke-width="0.78" opacity="0.72"/>
<line x1="118.51" y1="182.02" x2="118.51" y2="184.52" stroke="#6262ff" stroke-width="0.6"/>
<line x1="118.51" y1="225.92" x2="118.51" y2="228.42" stroke="#6262ff" stroke-width="0.6"/>
<line x1="119.5" y1="186.05" x2="119.5" y2="230.2" stroke="#a0a0ff" stroke-width="0.43" opacity="0.69"/>
<line x1="119.5" y1="184.92" x2="119.5" y2="187.42" stroke="#6262ff" stroke-width="0.6"/>
<line x1="119.5" y1="228.28" x2="119.5" y2="230.78" stroke="#6262ff" stroke-width="0.6"/>
<line x1="120.1" y1="186.06" x2="120.1" y2="227.53" stroke="#3434ff" stroke-width="0.53" opacity="0.79"/>
<line x1="120.68" y1="183.8" x2="120.68" y2="228.4" stroke="#3434ff" stroke-width="0.63" opacity="0.92"/>
<line x1="121.41" y1="185.59" x2="121.41" y2="225.84" stroke="#a0a0ff" stroke-width="0.57" opacity="0.78"/>
<line x1="121.41" y1="182.9" x2="121.41" y2="185.4" stroke="#6262ff" stroke-width="0.6"/>
<line x1="121.41" y1="225.41" x2="121.41" y2="227.91" stroke="#6262ff" stroke-width="0.6"/>
<line x1="122.32" y1="184.3" x2="122.32" y2="231.18" stroke="#3434ff" stroke-width="0.62" opacity="0.87"/>
<line x1="123.1" y1="183.84" x2="123.1" y2="228.32" stroke="#3434ff" stroke-width="0.69" opacity="0.72"/>
<line x1="123.88" y1="185.67" x2="123.88" y2="229.46" stroke="#a0a0ff" stroke-width="0.62" opacity="0.59"/>
<line x1="123.88" y1="185.44" x2="123.88" y2="187.94" stroke="#6262ff" stroke-width="0.6"/>
<line x1="123.88" y1="228.64" x2="123.88" y2="231.14" stroke="#6262ff" stroke-width="0.6"/>
<rect x="111.6" y="207.6" width="12.2" height="1.4" fill="#1010ee" opacity="0.9"/>
<rect x="131.2" y="176.2" width="13.1" height="57.2" fill="#ff5cff"/>
<line x1="131.2" y1="176.71" x2="131.2" y2="232.14" stroke="#f020f0" stroke-width="0.8" opacity="0.67"/>
<line x1="132.04" y1="174.13" x2="132.04" y2="232.63" stroke="#f020f0" stroke-width="0.71" opacity="0.85"/>
<line x1="132.92" y1="175.67" x2="132.92" y2="230.42" stroke="#ffa4ff" stroke-width="0.78" opacity="0.80"/>
<line x1="132.92" y1="175.32" x2="132.92" y2="177.82" stroke="#ff5cff" stroke-width="0.6"/>
<line x1="132.92" y1="229.47" x2="132.92" y2="231.97" stroke="#ff5cff" stroke-width="0.6"/>
<line x1="133.64" y1="174.76" x2="133.64" y2="231.41" stroke="#f020f0" stroke-width="0.73" opacity="0.90"/>
<line x1="134.22" y1="175.94" x2="134.22" y2="232.16" stroke="#ffa4ff" stroke-width="0.77" opacity="0.63"/>
<line x1="134.22" y1="174.84" x2="134.22" y2="177.34" stroke="#ff5cff" stroke-width="0.6"/>
<line x1="134.22" y1="232.34" x2="134.22" y2="234.84" stroke="#ff5cff" stroke-width="0.6"/>
<line x1="135.17" y1="176.48" x2="135.17" y2="233.01" stroke="#ffa4ff" stroke-width="0.8" opacity="0.84"/>
<line x1="135.17" y1="174.08" x2="135.17" y2="176.58" stroke="#ff5cff" stroke-width="0.6"/>
<line x1="135.17" y1="232.96" x2="135.17" y2="235.46" stroke="#ff5cff" stroke-width="0.6"/>
<line x1="135.8" y1="176.88" x2="135.8" y2="231.6" stroke="#f020f0" stroke-width="0.65" opacity="0.65"/>
<line x1="136.37" y1="175.89" x2="136.37" y2="231.61" stroke="#ffa4ff" stroke-width="0.8" opacity="0.81"/>
<line x1="136.37" y1="175.49" x2="136.37" y2="177.99" stroke="#ff5cff" stroke-width="0.6"/>
<line x1="136.37" y1="230.63" x2="136.37" y2="233.13" stroke="#ff5cff" stroke-width="0.6"/>
<line x1="137.14" y1="174.54" x2="137.14" y2="233.34" stroke="#f020f0" stroke-width="0.69" opacity="0.83"/>
<line x1="137.83" y1="177.19" x2="137.83" y2="234.45" stroke="#f020f0" stroke-width="0.75" opacity="0.69"/>
<line x1="138.43" y1="176.71" x2="138.43" y2="233.2" stroke="#ffa4ff" stroke-width="0.42" opacity="0.68"/>
<line x1="138.43" y1="175.96" x2="138.43" y2="178.46" stroke="#ff5cff" stroke-width="0.6"/>
<line x1="138.43" y1="231.81" x2="138.43" y2="234.31" stroke="#ff5cff" stroke-width="0.6"/>
<line x1="139.08" y1="175.35" x2="139.08" y2="232.59" stroke="#f020f0" stroke-width="0.8" opacity="0.85"/>
<line x1="139.99" y1="175.78" x2="139.99" y2="233.63" stroke="#f020f0" stroke-width="0.62" opacity="0.68"/>
<line x1="140.64" y1="177.11" x2="140.64" y2="232.8" stroke="#ffa4ff" stroke-width="0.41" opacity="0.60"/>
<line x1="140.64" y1="174.72" x2="140.64" y2="177.22" stroke="#ff5cff" stroke-width="0.6"/>
<line x1="140.64" y1="232.22" x2="140.64" y2="234.72" stroke="#ff5cff" stroke-width="0.6"/>
<line x1="141.41" y1="179.31" x2="141.41" y2="233.58" stroke="#ffa4ff" stroke-width="0.55" opacity="0.80"/>
<line x1="141.41" y1="176.59" x2="141.41" y2="179.09" stroke="#ff5cff" stroke-width="0.6"/>
<line x1="141.41" y1="231.88" x2="141.41" y2="234.38" stroke="#ff5cff" stroke-width="0.6"/>
<line x1="142.07" y1="176.76" x2="142.07" y2="234.47" stroke="#f020f0" stroke-width="0.64" opacity="0.62"/>
<line x1="142.96" y1="178.13" x2="142.96" y2="232.53" stroke="#ffa4ff" stroke-width="0.47" opacity="0.52"/>
<line x1="142.96" y1="177.5" x2="142.96" y2="180" stroke="#ff5cff" stroke-width="0.6"/>
<line x1="142.96" y1="231.37" x2="142.96" y2="233.87" stroke="#ff5cff" stroke-width="0.6"/>
<line x1="143.87" y1="176.16" x2="143.87" y2="231.39" stroke="#ffa4ff" stroke-width="0.76" opacity="0.82"/>
<line x1="143.87" y1="174.05" x2="143.87" y2="176.55" stroke="#ff5cff" stroke-width="0.6"/>
<line x1="143.87" y1="229.03" x2="143.87" y2="231.53" stroke="#ff5cff" stroke-width="0.6"/>
<rect x="131.7" y="207.6" width="12.1" height="1.4" fill="#e000e0" opacity="0.9"/>
<rect x="150.4" y="172.2" width="12.8" height="60.8" fill="#30aa58"/>
<line x1="150.4" y1="171.68" x2="150.4" y2="228.57" stroke="#78cc94" stroke-width="0.65" opacity="0.52"/>
<line x1="150.4" y1="171.04" x2="150.4" y2="173.54" stroke="#30aa58" stroke-width="0.6"/>
<line x1="150.4" y1="228.69" x2="150.4" y2="231.19" stroke="#30aa58" stroke-width="0.6"/>
<line x1="151.38" y1="170.58" x2="151.38" y2="234.44" stroke="#0a8a38" stroke-width="0.68" opacity="0.64"/>
<line x1="152.22" y1="175.29" x2="152.22" y2="231.08" stroke="#78cc94" stroke-width="0.47" opacity="0.64"/>
<line x1="152.22" y1="173.42" x2="152.22" y2="175.92" stroke="#30aa58" stroke-width="0.6"/>
<line x1="152.22" y1="231.05" x2="152.22" y2="233.55" stroke="#30aa58" stroke-width="0.6"/>
<line x1="152.95" y1="170.45" x2="152.95" y2="229.13" stroke="#78cc94" stroke-width="0.57" opacity="0.58"/>
<line x1="152.95" y1="170.15" x2="152.95" y2="172.65" stroke="#30aa58" stroke-width="0.6"/>
<line x1="152.95" y1="228.38" x2="152.95" y2="230.88" stroke="#30aa58" stroke-width="0.6"/>
<line x1="153.53" y1="172.95" x2="153.53" y2="234.73" stroke="#78cc94" stroke-width="0.75" opacity="0.52"/>
<line x1="153.53" y1="171.41" x2="153.53" y2="173.91" stroke="#30aa58" stroke-width="0.6"/>
<line x1="153.53" y1="232.62" x2="153.53" y2="235.12" stroke="#30aa58" stroke-width="0.6"/>
<line x1="154.12" y1="173.32" x2="154.12" y2="234.73" stroke="#0a8a38" stroke-width="0.67" opacity="0.75"/>
<line x1="154.87" y1="171.61" x2="154.87" y2="233.69" stroke="#0a8a38" stroke-width="0.74" opacity="0.70"/>
<line x1="155.39" y1="172.55" x2="155.39" y2="230.46" stroke="#78cc94" stroke-width="0.49" opacity="0.75"/>
<line x1="155.39" y1="171.17" x2="155.39" y2="173.67" stroke="#30aa58" stroke-width="0.6"/>
<line x1="155.39" y1="229.39" x2="155.39" y2="231.89" stroke="#30aa58" stroke-width="0.6"/>
<line x1="156.07" y1="170.07" x2="156.07" y2="234.99" stroke="#0a8a38" stroke-width="0.71" opacity="0.91"/>
<line x1="156.94" y1="171.58" x2="156.94" y2="234.44" stroke="#78cc94" stroke-width="0.63" opacity="0.75"/>
<line x1="156.94" y1="170.46" x2="156.94" y2="172.96" stroke="#30aa58" stroke-width="0.6"/>
<line x1="156.94" y1="232.45" x2="156.94" y2="234.95" stroke="#30aa58" stroke-width="0.6"/>
<line x1="157.72" y1="171.37" x2="157.72" y2="234.45" stroke="#0a8a38" stroke-width="0.64" opacity="0.84"/>
<line x1="158.44" y1="170.95" x2="158.44" y2="230.79" stroke="#0a8a38" stroke-width="0.73" opacity="0.75"/>
<line x1="159.34" y1="173.37" x2="159.34" y2="233.23" stroke="#78cc94" stroke-width="0.7" opacity="0.60"/>
<line x1="159.34" y1="172.68" x2="159.34" y2="175.18" stroke="#30aa58" stroke-width="0.6"/>
<line x1="159.34" y1="230.78" x2="159.34" y2="233.28" stroke="#30aa58" stroke-width="0.6"/>
<line x1="159.9" y1="173.29" x2="159.9" y2="233.16" stroke="#0a8a38" stroke-width="0.66" opacity="0.66"/>
<line x1="160.83" y1="170.87" x2="160.83" y2="229.87" stroke="#78cc94" stroke-width="0.79" opacity="0.78"/>
<line x1="160.83" y1="170.63" x2="160.83" y2="173.13" stroke="#30aa58" stroke-width="0.6"/>
<line x1="160.83" y1="228.6" x2="160.83" y2="231.1" stroke="#30aa58" stroke-width="0.6"/>
<line x1="161.41" y1="171" x2="161.41" y2="234.56" stroke="#0a8a38" stroke-width="0.68" opacity="0.84"/>
<line x1="162.02" y1="172.36" x2="162.02" y2="231.38" stroke="#78cc94" stroke-width="0.76" opacity="0.63"/>
<line x1="162.02" y1="171.84" x2="162.02" y2="174.34" stroke="#30aa58" stroke-width="0.6"/>
<line x1="162.02" y1="229.1" x2="162.02" y2="231.6" stroke="#30aa58" stroke-width="0.6"/>
<line x1="162.6" y1="175.29" x2="162.6" y2="233.71" stroke="#78cc94" stroke-width="0.58" opacity="0.62"/>
<line x1="162.6" y1="173.21" x2="162.6" y2="175.71" stroke="#30aa58" stroke-width="0.6"/>
<line x1="162.6" y1="232.09" x2="162.6" y2="234.59" stroke="#30aa58" stroke-width="0.6"/>
<rect x="150.9" y="207.6" width="11.8" height="1.4" fill="#087a30" opacity="0.9"/>
<rect x="62.5" y="158.5" width="108.2" height="87.1" fill="none" stroke="#7c7c7c" stroke-width="0.9"/>
<line x1="62.5" y1="158.5" x2="62.5" y2="245.6" stroke="#555" stroke-width="1.1"/>
<line x1="62.5" y1="245.6" x2="170.7" y2="245.6" stroke="#555" stroke-width="1.1"/>
<text x="79.2" y="184.6" font-size="5.5" font-family='"Liberation Serif", serif' fill="#222" text-anchor="middle" font-weight="bold" stroke="#222" stroke-width="0.18">0°</text>
<text x="98.2" y="179.5" font-size="5.5" font-family='"Liberation Serif", serif' fill="#222" text-anchor="middle" font-weight="bold" stroke="#222" stroke-width="0.18">20°</text>
<text x="117.2" y="176.8" font-size="5.5" font-family='"Liberation Serif", serif' fill="#222" text-anchor="middle" font-weight="bold" stroke="#222" stroke-width="0.18">40°</text>
<text x="138.6" y="169" font-size="5.5" font-family='"Liberation Serif", serif' fill="#222" text-anchor="middle" font-weight="bold" stroke="#222" stroke-width="0.18">60°</text>
<text x="157.9" y="165.8" font-size="5.5" font-family='"Liberation Serif", serif' fill="#222" text-anchor="middle" font-weight="bold" stroke="#222" stroke-width="0.18">80°</text>
<line x1="201.3" y1="169.7" x2="202.5" y2="169.7" stroke="#777" stroke-width="0.5"/>
<text x="199.9" y="170.8" font-size="3.3" font-family='"Liberation Serif", serif' fill="#444" text-anchor="end" font-weight="bold" stroke="#444" stroke-width="0.18">0.4</text>
<line x1="201.3" y1="184.6" x2="202.5" y2="184.6" stroke="#777" stroke-width="0.5"/>
<text x="199.9" y="185.7" font-size="3.3" font-family='"Liberation Serif", serif' fill="#444" text-anchor="end" font-weight="bold" stroke="#444" stroke-width="0.18">0.2</text>
<line x1="201.3" y1="199.5" x2="202.5" y2="199.5" stroke="#777" stroke-width="0.5"/>
<text x="199.9" y="200.6" font-size="3.3" font-family='"Liberation Serif", serif' fill="#444" text-anchor="end" font-weight="bold" stroke="#444" stroke-width="0.18">0.0</text>
<line x1="201.3" y1="214.4" x2="202.5" y2="214.4" stroke="#777" stroke-width="0.5"/>
<text x="199.9" y="215.5" font-size="3.3" font-family='"Liberation Serif", serif' fill="#444" text-anchor="end" font-weight="bold" stroke="#444" stroke-width="0.18">-0.2</text>
<line x1="201.3" y1="229.3" x2="202.5" y2="229.3" stroke="#777" stroke-width="0.5"/>
<text x="199.9" y="230.4" font-size="3.3" font-family='"Liberation Serif", serif' fill="#444" text-anchor="end" font-weight="bold" stroke="#444" stroke-width="0.18">-0.4</text>
<line x1="201.8" y1="177.15" x2="202.5" y2="177.15" stroke="#999" stroke-width="0.4"/>
<line x1="201.8" y1="192.05" x2="202.5" y2="192.05" stroke="#999" stroke-width="0.4"/>
<line x1="201.8" y1="206.95" x2="202.5" y2="206.95" stroke="#999" stroke-width="0.4"/>
<line x1="201.8" y1="221.85" x2="202.5" y2="221.85" stroke="#999" stroke-width="0.4"/>
<line x1="206" y1="236.9" x2="206" y2="238" stroke="#777" stroke-width="0.5"/>
<text x="206" y="242.5" font-size="3.5" font-family='"Liberation Serif", serif' fill="#444" text-anchor="middle" font-weight="bold" stroke="#444" stroke-width="0.18">0</text>
<line x1="221.65" y1="236.9" x2="221.65" y2="238" stroke="#777" stroke-width="0.5"/>
<text x="221.65" y="242.5" font-size="3.5" font-family='"Liberation Serif", serif' fill="#444" text-anchor="middle" font-weight="bold" stroke="#444" stroke-width="0.18">1</text>
<line x1="237.3" y1="236.9" x2="237.3" y2="238" stroke="#777" stroke-width="0.5"/>
<text x="237.3" y="242.5" font-size="3.5" font-family='"Liberation Serif", serif' fill="#444" text-anchor="middle" font-weight="bold" stroke="#444" stroke-width="0.18">2</text>
<line x1="252.95" y1="236.9" x2="252.95" y2="238" stroke="#777" stroke-width="0.5"/>
<text x="252.95" y="242.5" font-size="3.5" font-family='"Liberation Serif", serif' fill="#444" text-anchor="middle" font-weight="bold" stroke="#444" stroke-width="0.18">3</text>
<line x1="268.6" y1="236.9" x2="268.6" y2="238" stroke="#777" stroke-width="0.5"/>
<text x="268.6" y="242.5" font-size="3.5" font-family='"Liberation Serif", serif' fill="#444" text-anchor="middle" font-weight="bold" stroke="#444" stroke-width="0.18">4</text>
<line x1="284.25" y1="236.9" x2="284.25" y2="238" stroke="#777" stroke-width="0.5"/>
<text x="284.25" y="242.5" font-size="3.5" font-family='"Liberation Serif", serif' fill="#444" text-anchor="middle" font-weight="bold" stroke="#444" stroke-width="0.18">5</text>
<line x1="213.82" y1="236.9" x2="213.82" y2="237.6" stroke="#999" stroke-width="0.4"/>
<line x1="229.47" y1="236.9" x2="229.47" y2="237.6" stroke="#999" stroke-width="0.4"/>
<line x1="245.12" y1="236.9" x2="245.12" y2="237.6" stroke="#999" stroke-width="0.4"/>
<line x1="260.77" y1="236.9" x2="260.77" y2="237.6" stroke="#999" stroke-width="0.4"/>
<line x1="276.43" y1="236.9" x2="276.43" y2="237.6" stroke="#999" stroke-width="0.4"/>
<text x="191.03" y="200.2" font-size="5.9" font-family='"Liberation Sans", sans-serif' fill="#222" text-anchor="middle" textLength="28.5" lengthAdjust="spacingAndGlyphs" transform="rotate(-90 191.03 200.2)" stroke="#222" stroke-width="0.28">Voltage(V)</text>
<text x="247" y="249.6" font-size="6.9" font-family='"Liberation Sans", sans-serif' fill="#222" text-anchor="middle" textLength="20.9" lengthAdjust="spacingAndGlyphs" stroke="#222" stroke-width="0.28">Time(s)</text>
<path d="M206.3,199.5 L210.1,199.2 L211.5,197.7 L212.2,196.3 L213.5,185.9 L214.6,196 L215.6,201 L216.5,202.7 L217.5,214.3 L218.4,201.5 L219.8,200 L222,199.5 L225.8,199.2 L227.2,197.7 L227.9,196.3 L229.2,185.9 L230.3,196 L231.3,201 L232.2,202.7 L233.2,214.3 L234.1,201.5 L235.5,200 L237.7,199.5 L241.5,199.2 L242.9,197.7 L243.6,196.3 L244.9,185.9 L246,196 L247,201 L247.9,202.7 L248.9,214.3 L249.8,201.5 L251.2,200 L253.4,199.5 L257.2,199.2 L258.6,197.7 L259.3,196.3 L260.6,185.9 L261.7,196 L262.7,201 L263.6,202.7 L264.6,214.3 L265.5,201.5 L266.9,200 L269.1,199.5 L272.9,199.2 L274.3,197.7 L275,196.3 L276.3,185.9 L277.4,196 L278.4,201 L279.3,202.7 L280.3,214.3 L281.2,201.5 L282.6,200 L284.8,199.5 L288.6,199.2 L288.8,198.99" stroke="#4a4a4a" stroke-width="0.85" fill="none" stroke-linejoin="round"/>
<rect x="202.5" y="162.3" width="93" height="74.6" fill="none" stroke="#9a9a9a" stroke-width="0.9"/>
<text x="292.9" y="168.7" font-size="4.4" font-family='"Liberation Serif", serif' fill="#222" text-anchor="end" font-weight="bold" stroke="#222" stroke-width="0.18">0°</text>
<line x1="326.2" y1="170.04" x2="327.4" y2="170.04" stroke="#777" stroke-width="0.5"/>
<text x="324.8" y="171.14" font-size="3.3" font-family='"Liberation Serif", serif' fill="#444" text-anchor="end" font-weight="bold" stroke="#444" stroke-width="0.18">0.4</text>
<line x1="326.2" y1="184.72" x2="327.4" y2="184.72" stroke="#777" stroke-width="0.5"/>
<text x="324.8" y="185.82" font-size="3.3" font-family='"Liberation Serif", serif' fill="#444" text-anchor="end" font-weight="bold" stroke="#444" stroke-width="0.18">0.2</text>
<line x1="326.2" y1="199.4" x2="327.4" y2="199.4" stroke="#777" stroke-width="0.5"/>
<text x="324.8" y="200.5" font-size="3.3" font-family='"Liberation Serif", serif' fill="#444" text-anchor="end" font-weight="bold" stroke="#444" stroke-width="0.18">0.0</text>
<line x1="326.2" y1="214.08" x2="327.4" y2="214.08" stroke="#777" stroke-width="0.5"/>
<text x="324.8" y="215.18" font-size="3.3" font-family='"Liberation Serif", serif' fill="#444" text-anchor="end" font-weight="bold" stroke="#444" stroke-width="0.18">-0.2</text>
<line x1="326.2" y1="228.76" x2="327.4" y2="228.76" stroke="#777" stroke-width="0.5"/>
<text x="324.8" y="229.86" font-size="3.3" font-family='"Liberation Serif", serif' fill="#444" text-anchor="end" font-weight="bold" stroke="#444" stroke-width="0.18">-0.4</text>
<line x1="326.7" y1="177.38" x2="327.4" y2="177.38" stroke="#999" stroke-width="0.4"/>
<line x1="326.7" y1="192.06" x2="327.4" y2="192.06" stroke="#999" stroke-width="0.4"/>
<line x1="326.7" y1="206.74" x2="327.4" y2="206.74" stroke="#999" stroke-width="0.4"/>
<line x1="326.7" y1="221.42" x2="327.4" y2="221.42" stroke="#999" stroke-width="0.4"/>
<line x1="330.4" y1="236.1" x2="330.4" y2="237.2" stroke="#777" stroke-width="0.5"/>
<text x="330.4" y="241.7" font-size="3.5" font-family='"Liberation Serif", serif' fill="#444" text-anchor="middle" font-weight="bold" stroke="#444" stroke-width="0.18">0</text>
<line x1="345.66" y1="236.1" x2="345.66" y2="237.2" stroke="#777" stroke-width="0.5"/>
<text x="345.66" y="241.7" font-size="3.5" font-family='"Liberation Serif", serif' fill="#444" text-anchor="middle" font-weight="bold" stroke="#444" stroke-width="0.18">1</text>
<line x1="360.92" y1="236.1" x2="360.92" y2="237.2" stroke="#777" stroke-width="0.5"/>
<text x="360.92" y="241.7" font-size="3.5" font-family='"Liberation Serif", serif' fill="#444" text-anchor="middle" font-weight="bold" stroke="#444" stroke-width="0.18">2</text>
<line x1="376.18" y1="236.1" x2="376.18" y2="237.2" stroke="#777" stroke-width="0.5"/>
<text x="376.18" y="241.7" font-size="3.5" font-family='"Liberation Serif", serif' fill="#444" text-anchor="middle" font-weight="bold" stroke="#444" stroke-width="0.18">3</text>
<line x1="391.44" y1="236.1" x2="391.44" y2="237.2" stroke="#777" stroke-width="0.5"/>
<text x="391.44" y="241.7" font-size="3.5" font-family='"Liberation Serif", serif' fill="#444" text-anchor="middle" font-weight="bold" stroke="#444" stroke-width="0.18">4</text>
<line x1="406.7" y1="236.1" x2="406.7" y2="237.2" stroke="#777" stroke-width="0.5"/>
<text x="406.7" y="241.7" font-size="3.5" font-family='"Liberation Serif", serif' fill="#444" text-anchor="middle" font-weight="bold" stroke="#444" stroke-width="0.18">5</text>
<line x1="338.03" y1="236.1" x2="338.03" y2="236.8" stroke="#999" stroke-width="0.4"/>
<line x1="353.29" y1="236.1" x2="353.29" y2="236.8" stroke="#999" stroke-width="0.4"/>
<line x1="368.55" y1="236.1" x2="368.55" y2="236.8" stroke="#999" stroke-width="0.4"/>
<line x1="383.81" y1="236.1" x2="383.81" y2="236.8" stroke="#999" stroke-width="0.4"/>
<line x1="399.07" y1="236.1" x2="399.07" y2="236.8" stroke="#999" stroke-width="0.4"/>
<text x="315.53" y="200.2" font-size="5.9" font-family='"Liberation Sans", sans-serif' fill="#222" text-anchor="middle" textLength="28.5" lengthAdjust="spacingAndGlyphs" transform="rotate(-90 315.53 200.2)" stroke="#222" stroke-width="0.28">Voltage(V)</text>
<text x="371.6" y="248.8" font-size="6.9" font-family='"Liberation Sans", sans-serif' fill="#222" text-anchor="middle" textLength="20.9" lengthAdjust="spacingAndGlyphs" stroke="#222" stroke-width="0.28">Time(s)</text>
<path d="M331,199.4 L334.8,199.1 L335.9,196.6 L337.1,180.3 L338.6,196.6 L340.1,206.5 L341.3,217.8 L341.9,203.9 L343.7,200.3 L346.45,199.4 L350.25,199.1 L351.35,196.6 L352.55,180.3 L354.05,196.6 L355.55,206.5 L356.75,217.8 L357.35,203.9 L359.15,200.3 L361.9,199.4 L365.7,199.1 L366.8,196.6 L368,180.3 L369.5,196.6 L371,206.5 L372.2,217.8 L372.8,203.9 L374.6,200.3 L377.35,199.4 L381.15,199.1 L382.25,196.6 L383.45,180.3 L384.95,196.6 L386.45,206.5 L387.65,217.8 L388.25,203.9 L390.05,200.3 L392.8,199.4 L396.6,199.1 L397.7,196.6 L398.9,180.3 L400.4,196.6 L401.9,206.5 L403.1,217.8 L403.7,203.9 L405.5,200.3 L408.25,199.4 L411.7,199.13" stroke="#3c3cff" stroke-width="0.85" fill="none" stroke-linejoin="round"/>
<rect x="327.4" y="162.7" width="90.9" height="73.4" fill="none" stroke="#9a9a9a" stroke-width="0.9"/>
<text x="415.7" y="169.1" font-size="4.4" font-family='"Liberation Serif", serif' fill="#222" text-anchor="end" font-weight="bold" stroke="#222" stroke-width="0.18">40°</text>
<line x1="445.3" y1="170.04" x2="446.5" y2="170.04" stroke="#777" stroke-width="0.5"/>
<text x="443.9" y="171.14" font-size="3.3" font-family='"Liberation Serif", serif' fill="#444" text-anchor="end" font-weight="bold" stroke="#444" stroke-width="0.18">0.4</text>
<line x1="445.3" y1="184.72" x2="446.5" y2="184.72" stroke="#777" stroke-width="0.5"/>
<text x="443.9" y="185.82" font-size="3.3" font-family='"Liberation Serif", serif' fill="#444" text-anchor="end" font-weight="bold" stroke="#444" stroke-width="0.18">0.2</text>
<line x1="445.3" y1="199.4" x2="446.5" y2="199.4" stroke="#777" stroke-width="0.5"/>
<text x="443.9" y="200.5" font-size="3.3" font-family='"Liberation Serif", serif' fill="#444" text-anchor="end" font-weight="bold" stroke="#444" stroke-width="0.18">0.0</text>
<line x1="445.3" y1="214.08" x2="446.5" y2="214.08" stroke="#777" stroke-width="0.5"/>
<text x="443.9" y="215.18" font-size="3.3" font-family='"Liberation Serif", serif' fill="#444" text-anchor="end" font-weight="bold" stroke="#444" stroke-width="0.18">-0.2</text>
<line x1="445.3" y1="228.76" x2="446.5" y2="228.76" stroke="#777" stroke-width="0.5"/>
<text x="443.9" y="229.86" font-size="3.3" font-family='"Liberation Serif", serif' fill="#444" text-anchor="end" font-weight="bold" stroke="#444" stroke-width="0.18">-0.4</text>
<line x1="445.8" y1="177.38" x2="446.5" y2="177.38" stroke="#999" stroke-width="0.4"/>
<line x1="445.8" y1="192.06" x2="446.5" y2="192.06" stroke="#999" stroke-width="0.4"/>
<line x1="445.8" y1="206.74" x2="446.5" y2="206.74" stroke="#999" stroke-width="0.4"/>
<line x1="445.8" y1="221.42" x2="446.5" y2="221.42" stroke="#999" stroke-width="0.4"/>
<line x1="450.2" y1="236" x2="450.2" y2="237.1" stroke="#777" stroke-width="0.5"/>
<text x="450.2" y="241.6" font-size="3.5" font-family='"Liberation Serif", serif' fill="#444" text-anchor="middle" font-weight="bold" stroke="#444" stroke-width="0.18">0</text>
<line x1="465.46" y1="236" x2="465.46" y2="237.1" stroke="#777" stroke-width="0.5"/>
<text x="465.46" y="241.6" font-size="3.5" font-family='"Liberation Serif", serif' fill="#444" text-anchor="middle" font-weight="bold" stroke="#444" stroke-width="0.18">1</text>
<line x1="480.72" y1="236" x2="480.72" y2="237.1" stroke="#777" stroke-width="0.5"/>
<text x="480.72" y="241.6" font-size="3.5" font-family='"Liberation Serif", serif' fill="#444" text-anchor="middle" font-weight="bold" stroke="#444" stroke-width="0.18">2</text>
<line x1="495.98" y1="236" x2="495.98" y2="237.1" stroke="#777" stroke-width="0.5"/>
<text x="495.98" y="241.6" font-size="3.5" font-family='"Liberation Serif", serif' fill="#444" text-anchor="middle" font-weight="bold" stroke="#444" stroke-width="0.18">3</text>
<line x1="511.24" y1="236" x2="511.24" y2="237.1" stroke="#777" stroke-width="0.5"/>
<text x="511.24" y="241.6" font-size="3.5" font-family='"Liberation Serif", serif' fill="#444" text-anchor="middle" font-weight="bold" stroke="#444" stroke-width="0.18">4</text>
<line x1="526.5" y1="236" x2="526.5" y2="237.1" stroke="#777" stroke-width="0.5"/>
<text x="526.5" y="241.6" font-size="3.5" font-family='"Liberation Serif", serif' fill="#444" text-anchor="middle" font-weight="bold" stroke="#444" stroke-width="0.18">5</text>
<line x1="457.83" y1="236" x2="457.83" y2="236.7" stroke="#999" stroke-width="0.4"/>
<line x1="473.09" y1="236" x2="473.09" y2="236.7" stroke="#999" stroke-width="0.4"/>
<line x1="488.35" y1="236" x2="488.35" y2="236.7" stroke="#999" stroke-width="0.4"/>
<line x1="503.61" y1="236" x2="503.61" y2="236.7" stroke="#999" stroke-width="0.4"/>
<line x1="518.87" y1="236" x2="518.87" y2="236.7" stroke="#999" stroke-width="0.4"/>
<text x="435.73" y="200.2" font-size="5.9" font-family='"Liberation Sans", sans-serif' fill="#222" text-anchor="middle" textLength="28.5" lengthAdjust="spacingAndGlyphs" transform="rotate(-90 435.73 200.2)" stroke="#222" stroke-width="0.28">Voltage(V)</text>
<text x="490.5" y="248.7" font-size="6.9" font-family='"Liberation Sans", sans-serif' fill="#222" text-anchor="middle" textLength="20.9" lengthAdjust="spacingAndGlyphs" stroke="#222" stroke-width="0.28">Time(s)</text>
<path d="M450.2,199.4 L454.5,197.5 L456,191.7 L456.6,192.4 L457.7,172.1 L459.3,193.9 L460.8,202.6 L461.8,212.7 L462.5,218.8 L464,204 L466,199.7 L470,197.5 L471.5,191.7 L472.1,192.4 L473.2,172.1 L474.8,193.9 L476.3,202.6 L477.3,212.7 L478,218.8 L479.5,204 L481.5,199.7 L485.5,197.5 L487,191.7 L487.6,192.4 L488.7,172.1 L490.3,193.9 L491.8,202.6 L492.8,212.7 L493.5,218.8 L495,204 L497,199.7 L501,197.5 L502.5,191.7 L503.1,192.4 L504.2,172.1 L505.8,193.9 L507.3,202.6 L508.3,212.7 L509,218.8 L510.5,204 L512.5,199.7 L516.5,197.5 L518,191.7 L518.6,192.4 L519.7,172.1 L521.3,193.9 L522.8,202.6 L523.8,212.7 L524.5,218.8 L526,204 L528,199.7 L531.6,197.72" stroke="#1f9c4c" stroke-width="0.85" fill="none" stroke-linejoin="round"/>
<rect x="446.5" y="162.6" width="91.3" height="73.4" fill="none" stroke="#9a9a9a" stroke-width="0.9"/>
<text x="535.2" y="169" font-size="4.4" font-family='"Liberation Serif", serif' fill="#222" text-anchor="end" font-weight="bold" stroke="#222" stroke-width="0.18">80°</text>
<text x="6.43" y="290.83" font-size="14" font-family='"Liberation Sans", sans-serif' fill="#0d0d0d" text-anchor="start" font-weight="bold" textLength="17.34" lengthAdjust="spacingAndGlyphs" stroke="#0d0d0d" stroke-width="0.2">(e)</text>
<line x1="34.4" y1="286.2" x2="161" y2="286.2" stroke="#808080" stroke-width="1.3"/>
<line x1="34.4" y1="388.6" x2="161" y2="388.6" stroke="#8a8a8a" stroke-width="1"/>
<line x1="34.4" y1="286.2" x2="34.4" y2="388.6" stroke="#ff9a9a" stroke-width="1"/>
<line x1="161" y1="286.2" x2="161" y2="388.6" stroke="#9a9aff" stroke-width="1.2"/>
<line x1="32.6" y1="382.2" x2="34.4" y2="382.2" stroke="#ff5050" stroke-width="0.8"/>
<text x="30.6" y="383.82" font-size="4.8" font-family='"Liberation Serif", serif' fill="#ff3030" text-anchor="end" font-weight="bold" textLength="6.9" lengthAdjust="spacingAndGlyphs" stroke="#ff3030" stroke-width="0.18">0.0</text>
<line x1="32.6" y1="356.64" x2="34.4" y2="356.64" stroke="#ff5050" stroke-width="0.8"/>
<text x="30.6" y="358.26" font-size="4.8" font-family='"Liberation Serif", serif' fill="#ff3030" text-anchor="end" font-weight="bold" textLength="6.9" lengthAdjust="spacingAndGlyphs" stroke="#ff3030" stroke-width="0.18">0.2</text>
<line x1="32.6" y1="331.08" x2="34.4" y2="331.08" stroke="#ff5050" stroke-width="0.8"/>
<text x="30.6" y="332.7" font-size="4.8" font-family='"Liberation Serif", serif' fill="#ff3030" text-anchor="end" font-weight="bold" textLength="6.9" lengthAdjust="spacingAndGlyphs" stroke="#ff3030" stroke-width="0.18">0.4</text>
<line x1="32.6" y1="305.52" x2="34.4" y2="305.52" stroke="#ff5050" stroke-width="0.8"/>
<text x="30.6" y="307.14" font-size="4.8" font-family='"Liberation Serif", serif' fill="#ff3030" text-anchor="end" font-weight="bold" textLength="6.9" lengthAdjust="spacingAndGlyphs" stroke="#ff3030" stroke-width="0.18">0.6</text>
<line x1="33.4" y1="369.42" x2="34.4" y2="369.42" stroke="#ff8080" stroke-width="0.6"/>
<line x1="33.4" y1="343.86" x2="34.4" y2="343.86" stroke="#ff8080" stroke-width="0.6"/>
<line x1="33.4" y1="318.3" x2="34.4" y2="318.3" stroke="#ff8080" stroke-width="0.6"/>
<line x1="33.4" y1="292.74" x2="34.4" y2="292.74" stroke="#ff8080" stroke-width="0.6"/>
<line x1="159.2" y1="380.4" x2="161" y2="380.4" stroke="#5050ff" stroke-width="0.8"/>
<text x="164.6" y="382.56" font-size="5.2" font-family='"Liberation Serif", serif' fill="#3030ff" text-anchor="middle" font-weight="bold" textLength="2.86" lengthAdjust="spacingAndGlyphs" stroke="#3030ff" stroke-width="0.18">0</text>
<line x1="159.2" y1="353.1" x2="161" y2="353.1" stroke="#5050ff" stroke-width="0.8"/>
<text x="164.6" y="355.26" font-size="5.2" font-family='"Liberation Serif", serif' fill="#3030ff" text-anchor="middle" font-weight="bold" textLength="2.86" lengthAdjust="spacingAndGlyphs" stroke="#3030ff" stroke-width="0.18">3</text>
<line x1="159.2" y1="325.8" x2="161" y2="325.8" stroke="#5050ff" stroke-width="0.8"/>
<text x="164.6" y="327.96" font-size="5.2" font-family='"Liberation Serif", serif' fill="#3030ff" text-anchor="middle" font-weight="bold" textLength="2.86" lengthAdjust="spacingAndGlyphs" stroke="#3030ff" stroke-width="0.18">6</text>
<line x1="159.2" y1="298.5" x2="161" y2="298.5" stroke="#5050ff" stroke-width="0.8"/>
<text x="164.6" y="300.66" font-size="5.2" font-family='"Liberation Serif", serif' fill="#3030ff" text-anchor="middle" font-weight="bold" textLength="2.86" lengthAdjust="spacingAndGlyphs" stroke="#3030ff" stroke-width="0.18">9</text>
<line x1="160" y1="366.75" x2="161" y2="366.75" stroke="#8080ff" stroke-width="0.6"/>
<line x1="160" y1="339.45" x2="161" y2="339.45" stroke="#8080ff" stroke-width="0.6"/>
<line x1="160" y1="312.15" x2="161" y2="312.15" stroke="#8080ff" stroke-width="0.6"/>
<line x1="49.9" y1="388.6" x2="49.9" y2="390.2" stroke="#555" stroke-width="0.8"/>
<text x="49.9" y="396.36" font-size="4.9" font-family='"Liberation Serif", serif' fill="#1a1a1a" text-anchor="middle" font-weight="bold" textLength="6.12" lengthAdjust="spacingAndGlyphs" stroke="#1a1a1a" stroke-width="0.18">1.0</text>
<line x1="81.7" y1="388.6" x2="81.7" y2="390.2" stroke="#555" stroke-width="0.8"/>
<text x="81.7" y="396.36" font-size="4.9" font-family='"Liberation Serif", serif' fill="#1a1a1a" text-anchor="middle" font-weight="bold" textLength="6.12" lengthAdjust="spacingAndGlyphs" stroke="#1a1a1a" stroke-width="0.18">1.5</text>
<line x1="113.5" y1="388.6" x2="113.5" y2="390.2" stroke="#555" stroke-width="0.8"/>
<text x="113.5" y="396.36" font-size="4.9" font-family='"Liberation Serif", serif' fill="#1a1a1a" text-anchor="middle" font-weight="bold" textLength="6.12" lengthAdjust="spacingAndGlyphs" stroke="#1a1a1a" stroke-width="0.18">2.0</text>
<line x1="145.3" y1="388.6" x2="145.3" y2="390.2" stroke="#555" stroke-width="0.8"/>
<text x="145.3" y="396.36" font-size="4.9" font-family='"Liberation Serif", serif' fill="#1a1a1a" text-anchor="middle" font-weight="bold" textLength="6.12" lengthAdjust="spacingAndGlyphs" stroke="#1a1a1a" stroke-width="0.18">2.5</text>
<line x1="34" y1="388.6" x2="34" y2="389.6" stroke="#888" stroke-width="0.6"/>
<line x1="65.8" y1="388.6" x2="65.8" y2="389.6" stroke="#888" stroke-width="0.6"/>
<line x1="97.6" y1="388.6" x2="97.6" y2="389.6" stroke="#888" stroke-width="0.6"/>
<line x1="129.4" y1="388.6" x2="129.4" y2="389.6" stroke="#888" stroke-width="0.6"/>
<line x1="161.2" y1="388.6" x2="161.2" y2="389.6" stroke="#888" stroke-width="0.6"/>
<text x="20.19" y="337.5" font-size="8.8" font-family='"Liberation Sans", sans-serif' fill="#ff2e2e" text-anchor="middle" textLength="41" lengthAdjust="spacingAndGlyphs" transform="rotate(-90 20.19 337.5)" stroke="#ff2e2e" stroke-width="0.28">Voltage(V)</text>
<text x="176.79" y="335.7" font-size="8.8" font-family='"Liberation Sans", sans-serif' fill="#2e2eff" text-anchor="middle" textLength="52" lengthAdjust="spacingAndGlyphs" transform="rotate(-90 176.79 335.7)" stroke="#2e2eff" stroke-width="0.28">Response(%)</text>
<text x="98.5" y="406" font-size="8.7" font-family='"Liberation Sans", sans-serif' fill="#222" text-anchor="middle" textLength="57.3" lengthAdjust="spacingAndGlyphs" stroke="#222" stroke-width="0.28">Frequency(Hz)</text>
<path d="M49.8,304.8 L81.9,303.5 L113.5,304.8 L145.4,306.4" stroke="#ff4646" stroke-width="0.9" fill="none"/>
<path d="M49.8,380.1 L81.9,366.8 L113.5,378.8 L145.4,357.6" stroke="#4646ff" stroke-width="0.9" fill="none"/>
<rect x="48.85" y="303.85" width="1.9" height="1.9" fill="#111"/>
<rect x="80.95" y="302.55" width="1.9" height="1.9" fill="#111"/>
<rect x="112.55" y="303.85" width="1.9" height="1.9" fill="#111"/>
<rect x="144.45" y="305.45" width="1.9" height="1.9" fill="#111"/>
<rect x="48.85" y="379.15" width="1.9" height="1.9" fill="#111"/>
<rect x="80.95" y="365.85" width="1.9" height="1.9" fill="#111"/>
<rect x="112.55" y="377.85" width="1.9" height="1.9" fill="#111"/>
<rect x="144.45" y="356.65" width="1.9" height="1.9" fill="#111"/>
<line x1="66.1" y1="334.2" x2="120.5" y2="334.2" stroke="#111" stroke-width="1"/>
<path d="M119.6,332.2 L123.8,334.2 L119.6,336.2" stroke="none" stroke-width="0" fill="#111"/>
<text x="68.3" y="342.2" font-size="6.4" font-family='"Liberation Serif", serif' fill="#222" text-anchor="start" font-weight="bold" textLength="40.7" lengthAdjust="spacingAndGlyphs" stroke="#222" stroke-width="0.18">Add Frequency</text>
<text x="184.83" y="290.83" font-size="14" font-family='"Liberation Sans", sans-serif' fill="#0d0d0d" text-anchor="start" font-weight="bold" textLength="14.54" lengthAdjust="spacingAndGlyphs" stroke="#0d0d0d" stroke-width="0.2">(f)</text>
<line x1="220.4" y1="286.5" x2="347" y2="286.5" stroke="#808080" stroke-width="1.3"/>
<line x1="220.4" y1="389.3" x2="347" y2="389.3" stroke="#8a8a8a" stroke-width="1"/>
<line x1="220.4" y1="286.5" x2="220.4" y2="389.3" stroke="#ff9a9a" stroke-width="1"/>
<line x1="347" y1="286.5" x2="347" y2="389.3" stroke="#9a9aff" stroke-width="1.2"/>
<line x1="218.6" y1="293.31" x2="220.4" y2="293.31" stroke="#ff5050" stroke-width="0.8"/>
<text x="217" y="294.83" font-size="4.5" font-family='"Liberation Serif", serif' fill="#ff3030" text-anchor="end" font-weight="bold" textLength="7.2" lengthAdjust="spacingAndGlyphs" stroke="#ff3030" stroke-width="0.18">0.6</text>
<line x1="218.6" y1="308.19" x2="220.4" y2="308.19" stroke="#ff5050" stroke-width="0.8"/>
<text x="217" y="309.71" font-size="4.5" font-family='"Liberation Serif", serif' fill="#ff3030" text-anchor="end" font-weight="bold" textLength="7.2" lengthAdjust="spacingAndGlyphs" stroke="#ff3030" stroke-width="0.18">0.4</text>
<line x1="218.6" y1="323.07" x2="220.4" y2="323.07" stroke="#ff5050" stroke-width="0.8"/>
<text x="217" y="324.59" font-size="4.5" font-family='"Liberation Serif", serif' fill="#ff3030" text-anchor="end" font-weight="bold" textLength="7.2" lengthAdjust="spacingAndGlyphs" stroke="#ff3030" stroke-width="0.18">0.2</text>
<line x1="218.6" y1="337.95" x2="220.4" y2="337.95" stroke="#ff5050" stroke-width="0.8"/>
<text x="217" y="339.47" font-size="4.5" font-family='"Liberation Serif", serif' fill="#ff3030" text-anchor="end" font-weight="bold" textLength="7.2" lengthAdjust="spacingAndGlyphs" stroke="#ff3030" stroke-width="0.18">0.0</text>
<line x1="218.6" y1="352.83" x2="220.4" y2="352.83" stroke="#ff5050" stroke-width="0.8"/>
<text x="217" y="354.35" font-size="4.5" font-family='"Liberation Serif", serif' fill="#ff3030" text-anchor="end" font-weight="bold" textLength="9.12" lengthAdjust="spacingAndGlyphs" stroke="#ff3030" stroke-width="0.18">-0.2</text>
<line x1="218.6" y1="367.71" x2="220.4" y2="367.71" stroke="#ff5050" stroke-width="0.8"/>
<text x="217" y="369.23" font-size="4.5" font-family='"Liberation Serif", serif' fill="#ff3030" text-anchor="end" font-weight="bold" textLength="9.12" lengthAdjust="spacingAndGlyphs" stroke="#ff3030" stroke-width="0.18">-0.4</text>
<line x1="218.6" y1="382.59" x2="220.4" y2="382.59" stroke="#ff5050" stroke-width="0.8"/>
<text x="217" y="384.11" font-size="4.5" font-family='"Liberation Serif", serif' fill="#ff3030" text-anchor="end" font-weight="bold" textLength="9.12" lengthAdjust="spacingAndGlyphs" stroke="#ff3030" stroke-width="0.18">-0.6</text>
<line x1="219.4" y1="300.75" x2="220.4" y2="300.75" stroke="#ff8080" stroke-width="0.6"/>
<line x1="219.4" y1="315.63" x2="220.4" y2="315.63" stroke="#ff8080" stroke-width="0.6"/>
<line x1="219.4" y1="330.51" x2="220.4" y2="330.51" stroke="#ff8080" stroke-width="0.6"/>
<line x1="219.4" y1="345.39" x2="220.4" y2="345.39" stroke="#ff8080" stroke-width="0.6"/>
<line x1="219.4" y1="360.27" x2="220.4" y2="360.27" stroke="#ff8080" stroke-width="0.6"/>
<line x1="219.4" y1="375.15" x2="220.4" y2="375.15" stroke="#ff8080" stroke-width="0.6"/>
<line x1="345.2" y1="383" x2="347" y2="383" stroke="#5050ff" stroke-width="0.8"/>
<text x="348.8" y="384.69" font-size="5" font-family='"Liberation Serif", serif' fill="#3030ff" text-anchor="start" font-weight="bold" textLength="2.75" lengthAdjust="spacingAndGlyphs" stroke="#3030ff" stroke-width="0.18">0</text>
<line x1="345.2" y1="361.55" x2="347" y2="361.55" stroke="#5050ff" stroke-width="0.8"/>
<text x="348.8" y="363.24" font-size="5" font-family='"Liberation Serif", serif' fill="#3030ff" text-anchor="start" font-weight="bold" textLength="5.5" lengthAdjust="spacingAndGlyphs" stroke="#3030ff" stroke-width="0.18">50</text>
<line x1="345.2" y1="340.1" x2="347" y2="340.1" stroke="#5050ff" stroke-width="0.8"/>
<text x="348.8" y="341.79" font-size="5" font-family='"Liberation Serif", serif' fill="#3030ff" text-anchor="start" font-weight="bold" textLength="8.25" lengthAdjust="spacingAndGlyphs" stroke="#3030ff" stroke-width="0.18">100</text>
<line x1="345.2" y1="318.65" x2="347" y2="318.65" stroke="#5050ff" stroke-width="0.8"/>
<text x="348.8" y="320.34" font-size="5" font-family='"Liberation Serif", serif' fill="#3030ff" text-anchor="start" font-weight="bold" textLength="8.25" lengthAdjust="spacingAndGlyphs" stroke="#3030ff" stroke-width="0.18">150</text>
<line x1="345.2" y1="297.2" x2="347" y2="297.2" stroke="#5050ff" stroke-width="0.8"/>
<text x="348.8" y="298.89" font-size="5" font-family='"Liberation Serif", serif' fill="#3030ff" text-anchor="start" font-weight="bold" textLength="8.25" lengthAdjust="spacingAndGlyphs" stroke="#3030ff" stroke-width="0.18">200</text>
<line x1="346" y1="372.27" x2="347" y2="372.27" stroke="#8080ff" stroke-width="0.6"/>
<line x1="346" y1="350.82" x2="347" y2="350.82" stroke="#8080ff" stroke-width="0.6"/>
<line x1="346" y1="329.38" x2="347" y2="329.38" stroke="#8080ff" stroke-width="0.6"/>
<line x1="346" y1="307.93" x2="347" y2="307.93" stroke="#8080ff" stroke-width="0.6"/>
<line x1="232.7" y1="389.3" x2="232.7" y2="390.9" stroke="#555" stroke-width="0.8"/>
<text x="232.7" y="396.96" font-size="4.9" font-family='"Liberation Serif", serif' fill="#1a1a1a" text-anchor="middle" font-weight="bold" textLength="2.45" lengthAdjust="spacingAndGlyphs" stroke="#1a1a1a" stroke-width="0.18">0</text>
<line x1="258.21" y1="389.3" x2="258.21" y2="390.9" stroke="#555" stroke-width="0.8"/>
<text x="258.21" y="396.96" font-size="4.9" font-family='"Liberation Serif", serif' fill="#1a1a1a" text-anchor="middle" font-weight="bold" textLength="4.9" lengthAdjust="spacingAndGlyphs" stroke="#1a1a1a" stroke-width="0.18">20</text>
<line x1="283.72" y1="389.3" x2="283.72" y2="390.9" stroke="#555" stroke-width="0.8"/>
<text x="283.72" y="396.96" font-size="4.9" font-family='"Liberation Serif", serif' fill="#1a1a1a" text-anchor="middle" font-weight="bold" textLength="4.9" lengthAdjust="spacingAndGlyphs" stroke="#1a1a1a" stroke-width="0.18">40</text>
<line x1="309.23" y1="389.3" x2="309.23" y2="390.9" stroke="#555" stroke-width="0.8"/>
<text x="309.23" y="396.96" font-size="4.9" font-family='"Liberation Serif", serif' fill="#1a1a1a" text-anchor="middle" font-weight="bold" textLength="4.9" lengthAdjust="spacingAndGlyphs" stroke="#1a1a1a" stroke-width="0.18">60</text>
<line x1="334.74" y1="389.3" x2="334.74" y2="390.9" stroke="#555" stroke-width="0.8"/>
<text x="334.74" y="396.96" font-size="4.9" font-family='"Liberation Serif", serif' fill="#1a1a1a" text-anchor="middle" font-weight="bold" textLength="4.9" lengthAdjust="spacingAndGlyphs" stroke="#1a1a1a" stroke-width="0.18">80</text>
<line x1="245.45" y1="389.3" x2="245.45" y2="390.3" stroke="#888" stroke-width="0.6"/>
<line x1="270.96" y1="389.3" x2="270.96" y2="390.3" stroke="#888" stroke-width="0.6"/>
<line x1="296.48" y1="389.3" x2="296.48" y2="390.3" stroke="#888" stroke-width="0.6"/>
<line x1="321.99" y1="389.3" x2="321.99" y2="390.3" stroke="#888" stroke-width="0.6"/>
<text x="205.99" y="337.3" font-size="8.8" font-family='"Liberation Sans", sans-serif' fill="#ff2e2e" text-anchor="middle" textLength="40.6" lengthAdjust="spacingAndGlyphs" transform="rotate(-90 205.99 337.3)" stroke="#ff2e2e" stroke-width="0.28">Voltage(V)</text>
<text x="365.79" y="338.6" font-size="8.8" font-family='"Liberation Sans", sans-serif' fill="#2e2eff" text-anchor="middle" textLength="52.4" lengthAdjust="spacingAndGlyphs" transform="rotate(-90 365.79 338.6)" stroke="#2e2eff" stroke-width="0.28">Response(%)</text>
<text x="285" y="406" font-size="8.8" font-family='"Liberation Sans", sans-serif' fill="#222" text-anchor="middle" textLength="54.4" lengthAdjust="spacingAndGlyphs" stroke="#222" stroke-width="0.28">Angle(degree)</text>
<path d="M232.6,318.1 L258.2,313.1 L283.5,308.3 L309,298.9 L334.1,294.1" stroke="#ff4646" stroke-width="0.9" fill="none"/>
<path d="M232.6,383.3 L258.2,372.3 L283.5,361.7 L309,341.8 L334.1,331.1" stroke="#4646ff" stroke-width="0.9" fill="none"/>
<rect x="231.65" y="317.15" width="1.9" height="1.9" fill="#111"/>
<rect x="257.25" y="312.15" width="1.9" height="1.9" fill="#111"/>
<rect x="282.55" y="307.35" width="1.9" height="1.9" fill="#111"/>
<rect x="308.05" y="297.95" width="1.9" height="1.9" fill="#111"/>
<rect x="333.15" y="293.15" width="1.9" height="1.9" fill="#111"/>
<rect x="231.65" y="382.35" width="1.9" height="1.9" fill="#111"/>
<rect x="257.25" y="371.35" width="1.9" height="1.9" fill="#111"/>
<rect x="282.55" y="360.75" width="1.9" height="1.9" fill="#111"/>
<rect x="308.05" y="340.85" width="1.9" height="1.9" fill="#111"/>
<rect x="333.15" y="330.15" width="1.9" height="1.9" fill="#111"/>
<line x1="253.4" y1="327.2" x2="307.9" y2="327.2" stroke="#111" stroke-width="1"/>
<path d="M307.6,325.2 L311.8,327.2 L307.6,329.2" stroke="none" stroke-width="0" fill="#111"/>
<text x="263.8" y="335.5" font-size="6.4" font-family='"Liberation Serif", serif' fill="#222" text-anchor="start" font-weight="bold" textLength="28.8" lengthAdjust="spacingAndGlyphs" stroke="#222" stroke-width="0.18">Add Angle</text>
<text x="371.33" y="290.83" font-size="14" font-family='"Liberation Sans", sans-serif' fill="#0d0d0d" text-anchor="start" font-weight="bold" textLength="16.54" lengthAdjust="spacingAndGlyphs" stroke="#0d0d0d" stroke-width="0.2">(g)</text>
<line x1="406.8" y1="292.52" x2="408.4" y2="292.52" stroke="#555" stroke-width="0.8"/>
<text x="404.8" y="294.01" font-size="4.4" font-family='"Liberation Serif", serif' fill="#1a1a1a" text-anchor="end" font-weight="bold" textLength="6.88" lengthAdjust="spacingAndGlyphs" stroke="#1a1a1a" stroke-width="0.18">1.0</text>
<line x1="406.8" y1="310.16" x2="408.4" y2="310.16" stroke="#555" stroke-width="0.8"/>
<text x="404.8" y="311.65" font-size="4.4" font-family='"Liberation Serif", serif' fill="#1a1a1a" text-anchor="end" font-weight="bold" textLength="6.88" lengthAdjust="spacingAndGlyphs" stroke="#1a1a1a" stroke-width="0.18">0.5</text>
<line x1="406.8" y1="327.8" x2="408.4" y2="327.8" stroke="#555" stroke-width="0.8"/>
<text x="404.8" y="329.29" font-size="4.4" font-family='"Liberation Serif", serif' fill="#1a1a1a" text-anchor="end" font-weight="bold" textLength="6.88" lengthAdjust="spacingAndGlyphs" stroke="#1a1a1a" stroke-width="0.18">0.0</text>
<line x1="406.8" y1="345.44" x2="408.4" y2="345.44" stroke="#555" stroke-width="0.8"/>
<text x="404.8" y="346.93" font-size="4.4" font-family='"Liberation Serif", serif' fill="#1a1a1a" text-anchor="end" font-weight="bold" textLength="8.71" lengthAdjust="spacingAndGlyphs" stroke="#1a1a1a" stroke-width="0.18">-0.5</text>
<line x1="406.8" y1="363.08" x2="408.4" y2="363.08" stroke="#555" stroke-width="0.8"/>
<text x="404.8" y="364.57" font-size="4.4" font-family='"Liberation Serif", serif' fill="#1a1a1a" text-anchor="end" font-weight="bold" textLength="8.71" lengthAdjust="spacingAndGlyphs" stroke="#1a1a1a" stroke-width="0.18">-1.0</text>
<line x1="406.8" y1="380.72" x2="408.4" y2="380.72" stroke="#555" stroke-width="0.8"/>
<text x="404.8" y="382.21" font-size="4.4" font-family='"Liberation Serif", serif' fill="#1a1a1a" text-anchor="end" font-weight="bold" textLength="8.71" lengthAdjust="spacingAndGlyphs" stroke="#1a1a1a" stroke-width="0.18">-1.5</text>
<line x1="407.4" y1="301.34" x2="408.4" y2="301.34" stroke="#777" stroke-width="0.6"/>
<line x1="407.4" y1="318.98" x2="408.4" y2="318.98" stroke="#777" stroke-width="0.6"/>
<line x1="407.4" y1="336.62" x2="408.4" y2="336.62" stroke="#777" stroke-width="0.6"/>
<line x1="407.4" y1="354.26" x2="408.4" y2="354.26" stroke="#777" stroke-width="0.6"/>
<line x1="407.4" y1="371.9" x2="408.4" y2="371.9" stroke="#777" stroke-width="0.6"/>
<line x1="407.4" y1="389.54" x2="408.4" y2="389.54" stroke="#777" stroke-width="0.6"/>
<line x1="417.5" y1="391.2" x2="417.5" y2="392.8" stroke="#555" stroke-width="0.8"/>
<text x="417.5" y="398.86" font-size="4.9" font-family='"Liberation Serif", serif' fill="#1a1a1a" text-anchor="middle" font-weight="bold" textLength="2.57" lengthAdjust="spacingAndGlyphs" stroke="#1a1a1a" stroke-width="0.18">0</text>
<line x1="445.6" y1="391.2" x2="445.6" y2="392.8" stroke="#555" stroke-width="0.8"/>
<text x="445.6" y="398.86" font-size="4.9" font-family='"Liberation Serif", serif' fill="#1a1a1a" text-anchor="middle" font-weight="bold" textLength="2.57" lengthAdjust="spacingAndGlyphs" stroke="#1a1a1a" stroke-width="0.18">5</text>
<line x1="473.7" y1="391.2" x2="473.7" y2="392.8" stroke="#555" stroke-width="0.8"/>
<text x="473.7" y="398.86" font-size="4.9" font-family='"Liberation Serif", serif' fill="#1a1a1a" text-anchor="middle" font-weight="bold" textLength="5.15" lengthAdjust="spacingAndGlyphs" stroke="#1a1a1a" stroke-width="0.18">10</text>
<line x1="501.8" y1="391.2" x2="501.8" y2="392.8" stroke="#555" stroke-width="0.8"/>
<text x="501.8" y="398.86" font-size="4.9" font-family='"Liberation Serif", serif' fill="#1a1a1a" text-anchor="middle" font-weight="bold" textLength="5.15" lengthAdjust="spacingAndGlyphs" stroke="#1a1a1a" stroke-width="0.18">15</text>
<line x1="529.9" y1="391.2" x2="529.9" y2="392.8" stroke="#555" stroke-width="0.8"/>
<text x="529.9" y="398.86" font-size="4.9" font-family='"Liberation Serif", serif' fill="#1a1a1a" text-anchor="middle" font-weight="bold" textLength="5.15" lengthAdjust="spacingAndGlyphs" stroke="#1a1a1a" stroke-width="0.18">20</text>
<line x1="431.55" y1="391.2" x2="431.55" y2="392.2" stroke="#777" stroke-width="0.6"/>
<line x1="459.65" y1="391.2" x2="459.65" y2="392.2" stroke="#777" stroke-width="0.6"/>
<line x1="487.75" y1="391.2" x2="487.75" y2="392.2" stroke="#777" stroke-width="0.6"/>
<line x1="515.85" y1="391.2" x2="515.85" y2="392.2" stroke="#777" stroke-width="0.6"/>
<text x="391.2" y="339.3" font-size="9.6" font-family='"Liberation Sans", sans-serif' fill="#111" text-anchor="middle" textLength="47" lengthAdjust="spacingAndGlyphs" transform="rotate(-90 391.2 339.3)" stroke="#111" stroke-width="0.28">Voltage(V)</text>
<text x="475.2" y="408.6" font-size="9.6" font-family='"Liberation Sans", sans-serif' fill="#111" text-anchor="middle" textLength="39.7" lengthAdjust="spacingAndGlyphs" stroke="#111" stroke-width="0.28">Time(min)</text>
<defs><linearGradient id="gg" x1="0" y1="0" x2="0" y2="1"><stop offset="0" stop-color="#5ec283"/><stop offset="0.18" stop-color="#4cba76"/><stop offset="0.26" stop-color="#38b068"/><stop offset="0.32" stop-color="#26a85c"/><stop offset="0.42" stop-color="#40b56c"/><stop offset="0.55" stop-color="#52bc7a"/><stop offset="0.75" stop-color="#5cc082"/><stop offset="1" stop-color="#6ac68c"/></linearGradient></defs>
<rect x="417.1" y="297.9" width="114.6" height="83.8" fill="url(#gg)"/>
<path d="M417.2,297.9 L419.8,297.9 L418.6,311.32 Z" stroke="none" stroke-width="0" fill="#ace2bd" opacity="0.95"/>
<path d="M420.45,331.4 L421.45,331.4 L423.05,381.7 L418.85,381.7 Z" stroke="none" stroke-width="0" fill="#b2e4c2" opacity="0.95"/>
<rect x="418.55" y="350.5" width="1.4" height="31.2" fill="#a6deb8" opacity="0.85"/>
<path d="M418.3,353.73 L418.7,353.73 L419.2,381.7 L417.8,381.7 Z" stroke="none" stroke-width="0" fill="#9cdab0" opacity="0.7"/>
<rect x="418.81" y="316.9" width="1.4" height="1.4" fill="#1a9a4c" opacity="0.85"/>
<rect x="420.6" y="318.5" width="1.4" height="1.4" fill="#1a9a4c" opacity="0.7"/>
<rect x="418.36" y="321.45" width="1.9" height="1.9" fill="#0e9444" opacity="0.85"/>
<rect x="421.12" y="323.05" width="1.9" height="1.9" fill="#0e9444" opacity="0.7"/>
<rect x="418.55" y="327.6" width="1.2" height="1.2" fill="#22a055" opacity="0.85"/>
<rect x="421.43" y="329.2" width="1.2" height="1.2" fill="#22a055" opacity="0.7"/>
<rect x="418.49" y="335.4" width="1" height="1" fill="#2aa55a" opacity="0.85"/>
<rect x="420.81" y="337" width="1" height="1" fill="#2aa55a" opacity="0.7"/>
<path d="M422.15,297.9 L424.75,297.9 L423.55,312.58 Z" stroke="none" stroke-width="0" fill="#ace2bd" opacity="0.95"/>
<path d="M425.4,331.52 L426.4,331.52 L428,381.7 L423.8,381.7 Z" stroke="none" stroke-width="0" fill="#b2e4c2" opacity="0.95"/>
<rect x="423.5" y="360.63" width="1.4" height="21.07" fill="#a6deb8" opacity="0.85"/>
<path d="M423.25,355.61 L423.65,355.61 L424.15,381.7 L422.75,381.7 Z" stroke="none" stroke-width="0" fill="#9cdab0" opacity="0.7"/>
<rect x="423.32" y="316.9" width="1.4" height="1.4" fill="#1a9a4c" opacity="0.85"/>
<rect x="426.07" y="318.5" width="1.4" height="1.4" fill="#1a9a4c" opacity="0.7"/>
<rect x="423.03" y="321.45" width="1.9" height="1.9" fill="#0e9444" opacity="0.85"/>
<rect x="426.04" y="323.05" width="1.9" height="1.9" fill="#0e9444" opacity="0.7"/>
<rect x="423.87" y="327.6" width="1.2" height="1.2" fill="#22a055" opacity="0.85"/>
<rect x="425.66" y="329.2" width="1.2" height="1.2" fill="#22a055" opacity="0.7"/>
<rect x="423.99" y="335.4" width="1" height="1" fill="#2aa55a" opacity="0.85"/>
<rect x="425.88" y="337" width="1" height="1" fill="#2aa55a" opacity="0.7"/>
<path d="M427.1,297.9 L429.7,297.9 L428.5,313.55 Z" stroke="none" stroke-width="0" fill="#ace2bd" opacity="0.95"/>
<path d="M430.35,333.28 L431.35,333.28 L432.95,381.7 L428.75,381.7 Z" stroke="none" stroke-width="0" fill="#b2e4c2" opacity="0.95"/>
<rect x="428.45" y="353.64" width="1.4" height="28.06" fill="#a6deb8" opacity="0.85"/>
<path d="M428.2,354.04 L428.6,354.04 L429.1,381.7 L427.7,381.7 Z" stroke="none" stroke-width="0" fill="#9cdab0" opacity="0.7"/>
<rect x="427.81" y="316.9" width="1.4" height="1.4" fill="#1a9a4c" opacity="0.85"/>
<rect x="430.44" y="318.5" width="1.4" height="1.4" fill="#1a9a4c" opacity="0.7"/>
<rect x="428.99" y="321.45" width="1.9" height="1.9" fill="#0e9444" opacity="0.85"/>
<rect x="430.84" y="323.05" width="1.9" height="1.9" fill="#0e9444" opacity="0.7"/>
<rect x="428.35" y="327.6" width="1.2" height="1.2" fill="#22a055" opacity="0.85"/>
<rect x="431.28" y="329.2" width="1.2" height="1.2" fill="#22a055" opacity="0.7"/>
<rect x="428.53" y="335.4" width="1" height="1" fill="#2aa55a" opacity="0.85"/>
<rect x="431.37" y="337" width="1" height="1" fill="#2aa55a" opacity="0.7"/>
<path d="M432.05,297.9 L434.65,297.9 L433.45,311.05 Z" stroke="none" stroke-width="0" fill="#ace2bd" opacity="0.95"/>
<path d="M435.3,331.51 L436.3,331.51 L437.9,381.7 L433.7,381.7 Z" stroke="none" stroke-width="0" fill="#b2e4c2" opacity="0.95"/>
<rect x="433.4" y="360.89" width="1.4" height="20.81" fill="#a6deb8" opacity="0.85"/>
<path d="M433.15,352.41 L433.55,352.41 L434.05,381.7 L432.65,381.7 Z" stroke="none" stroke-width="0" fill="#9cdab0" opacity="0.7"/>
<rect x="433.7" y="316.9" width="1.4" height="1.4" fill="#1a9a4c" opacity="0.85"/>
<rect x="435.86" y="318.5" width="1.4" height="1.4" fill="#1a9a4c" opacity="0.7"/>
<rect x="433.93" y="321.45" width="1.9" height="1.9" fill="#0e9444" opacity="0.85"/>
<rect x="436.28" y="323.05" width="1.9" height="1.9" fill="#0e9444" opacity="0.7"/>
<rect x="433.54" y="327.6" width="1.2" height="1.2" fill="#22a055" opacity="0.85"/>
<rect x="435.19" y="329.2" width="1.2" height="1.2" fill="#22a055" opacity="0.7"/>
<rect x="432.78" y="335.4" width="1" height="1" fill="#2aa55a" opacity="0.85"/>
<rect x="435.72" y="337" width="1" height="1" fill="#2aa55a" opacity="0.7"/>
<path d="M437,297.9 L439.6,297.9 L438.4,313.82 Z" stroke="none" stroke-width="0" fill="#ace2bd" opacity="0.95"/>
<path d="M440.25,330.57 L441.25,330.57 L442.85,381.7 L438.65,381.7 Z" stroke="none" stroke-width="0" fill="#b2e4c2" opacity="0.95"/>
<rect x="438.35" y="353.96" width="1.4" height="27.74" fill="#a6deb8" opacity="0.85"/>
<path d="M438.1,351.29 L438.5,351.29 L439,381.7 L437.6,381.7 Z" stroke="none" stroke-width="0" fill="#9cdab0" opacity="0.7"/>
<rect x="438.07" y="316.9" width="1.4" height="1.4" fill="#1a9a4c" opacity="0.85"/>
<rect x="440.11" y="318.5" width="1.4" height="1.4" fill="#1a9a4c" opacity="0.7"/>
<rect x="438.1" y="321.45" width="1.9" height="1.9" fill="#0e9444" opacity="0.85"/>
<rect x="440.73" y="323.05" width="1.9" height="1.9" fill="#0e9444" opacity="0.7"/>
<rect x="437.94" y="327.6" width="1.2" height="1.2" fill="#22a055" opacity="0.85"/>
<rect x="441.04" y="329.2" width="1.2" height="1.2" fill="#22a055" opacity="0.7"/>
<rect x="437.77" y="335.4" width="1" height="1" fill="#2aa55a" opacity="0.85"/>
<rect x="440.35" y="337" width="1" height="1" fill="#2aa55a" opacity="0.7"/>
<path d="M441.95,297.9 L444.55,297.9 L443.35,310.45 Z" stroke="none" stroke-width="0" fill="#ace2bd" opacity="0.95"/>
<path d="M445.2,332.83 L446.2,332.83 L447.8,381.7 L443.6,381.7 Z" stroke="none" stroke-width="0" fill="#b2e4c2" opacity="0.95"/>
<rect x="443.3" y="358.69" width="1.4" height="23.01" fill="#a6deb8" opacity="0.85"/>
<path d="M443.05,355.31 L443.45,355.31 L443.95,381.7 L442.55,381.7 Z" stroke="none" stroke-width="0" fill="#9cdab0" opacity="0.7"/>
<rect x="443.48" y="316.9" width="1.4" height="1.4" fill="#1a9a4c" opacity="0.85"/>
<rect x="446.16" y="318.5" width="1.4" height="1.4" fill="#1a9a4c" opacity="0.7"/>
<rect x="442.81" y="321.45" width="1.9" height="1.9" fill="#0e9444" opacity="0.85"/>
<rect x="446.09" y="323.05" width="1.9" height="1.9" fill="#0e9444" opacity="0.7"/>
<rect x="443.37" y="327.6" width="1.2" height="1.2" fill="#22a055" opacity="0.85"/>
<rect x="445.95" y="329.2" width="1.2" height="1.2" fill="#22a055" opacity="0.7"/>
<rect x="443.38" y="335.4" width="1" height="1" fill="#2aa55a" opacity="0.85"/>
<rect x="445.54" y="337" width="1" height="1" fill="#2aa55a" opacity="0.7"/>
<path d="M446.9,297.9 L449.5,297.9 L448.3,309.48 Z" stroke="none" stroke-width="0" fill="#ace2bd" opacity="0.95"/>
<path d="M450.15,331.01 L451.15,331.01 L452.75,381.7 L448.55,381.7 Z" stroke="none" stroke-width="0" fill="#b2e4c2" opacity="0.95"/>
<rect x="448.25" y="350.44" width="1.4" height="31.26" fill="#a6deb8" opacity="0.85"/>
<path d="M448,352.66 L448.4,352.66 L448.9,381.7 L447.5,381.7 Z" stroke="none" stroke-width="0" fill="#9cdab0" opacity="0.7"/>
<rect x="447.77" y="316.9" width="1.4" height="1.4" fill="#1a9a4c" opacity="0.85"/>
<rect x="450.25" y="318.5" width="1.4" height="1.4" fill="#1a9a4c" opacity="0.7"/>
<rect x="448.27" y="321.45" width="1.9" height="1.9" fill="#0e9444" opacity="0.85"/>
<rect x="450.92" y="323.05" width="1.9" height="1.9" fill="#0e9444" opacity="0.7"/>
<rect x="448.56" y="327.6" width="1.2" height="1.2" fill="#22a055" opacity="0.85"/>
<rect x="451.02" y="329.2" width="1.2" height="1.2" fill="#22a055" opacity="0.7"/>
<rect x="447.74" y="335.4" width="1" height="1" fill="#2aa55a" opacity="0.85"/>
<rect x="450.99" y="337" width="1" height="1" fill="#2aa55a" opacity="0.7"/>
<path d="M451.85,297.9 L454.45,297.9 L453.25,310.02 Z" stroke="none" stroke-width="0" fill="#ace2bd" opacity="0.95"/>
<path d="M455.1,330.51 L456.1,330.51 L457.7,381.7 L453.5,381.7 Z" stroke="none" stroke-width="0" fill="#b2e4c2" opacity="0.95"/>
<rect x="453.2" y="352.03" width="1.4" height="29.67" fill="#a6deb8" opacity="0.85"/>
<path d="M452.95,358.79 L453.35,358.79 L453.85,381.7 L452.45,381.7 Z" stroke="none" stroke-width="0" fill="#9cdab0" opacity="0.7"/>
<rect x="452.61" y="316.9" width="1.4" height="1.4" fill="#1a9a4c" opacity="0.85"/>
<rect x="455.21" y="318.5" width="1.4" height="1.4" fill="#1a9a4c" opacity="0.7"/>
<rect x="453.03" y="321.45" width="1.9" height="1.9" fill="#0e9444" opacity="0.85"/>
<rect x="455.94" y="323.05" width="1.9" height="1.9" fill="#0e9444" opacity="0.7"/>
<rect x="453.03" y="327.6" width="1.2" height="1.2" fill="#22a055" opacity="0.85"/>
<rect x="455.45" y="329.2" width="1.2" height="1.2" fill="#22a055" opacity="0.7"/>
<rect x="453" y="335.4" width="1" height="1" fill="#2aa55a" opacity="0.85"/>
<rect x="455.06" y="337" width="1" height="1" fill="#2aa55a" opacity="0.7"/>
<path d="M456.8,297.9 L459.4,297.9 L458.2,314.18 Z" stroke="none" stroke-width="0" fill="#ace2bd" opacity="0.95"/>
<path d="M460.05,336.46 L461.05,336.46 L462.65,381.7 L458.45,381.7 Z" stroke="none" stroke-width="0" fill="#b2e4c2" opacity="0.95"/>
<rect x="458.15" y="358.1" width="1.4" height="23.6" fill="#a6deb8" opacity="0.85"/>
<path d="M457.9,355.98 L458.3,355.98 L458.8,381.7 L457.4,381.7 Z" stroke="none" stroke-width="0" fill="#9cdab0" opacity="0.7"/>
<rect x="458.03" y="316.9" width="1.4" height="1.4" fill="#1a9a4c" opacity="0.85"/>
<rect x="460.27" y="318.5" width="1.4" height="1.4" fill="#1a9a4c" opacity="0.7"/>
<rect x="458.29" y="321.45" width="1.9" height="1.9" fill="#0e9444" opacity="0.85"/>
<rect x="460.68" y="323.05" width="1.9" height="1.9" fill="#0e9444" opacity="0.7"/>
<rect x="457.87" y="327.6" width="1.2" height="1.2" fill="#22a055" opacity="0.85"/>
<rect x="460.95" y="329.2" width="1.2" height="1.2" fill="#22a055" opacity="0.7"/>
<rect x="458.36" y="335.4" width="1" height="1" fill="#2aa55a" opacity="0.85"/>
<rect x="460.16" y="337" width="1" height="1" fill="#2aa55a" opacity="0.7"/>
<path d="M461.75,297.9 L464.35,297.9 L463.15,313.76 Z" stroke="none" stroke-width="0" fill="#ace2bd" opacity="0.95"/>
<path d="M465,334.72 L466,334.72 L467.6,381.7 L463.4,381.7 Z" stroke="none" stroke-width="0" fill="#b2e4c2" opacity="0.95"/>
<rect x="463.1" y="351.5" width="1.4" height="30.2" fill="#a6deb8" opacity="0.85"/>
<path d="M462.85,354.45 L463.25,354.45 L463.75,381.7 L462.35,381.7 Z" stroke="none" stroke-width="0" fill="#9cdab0" opacity="0.7"/>
<rect x="463.35" y="316.9" width="1.4" height="1.4" fill="#1a9a4c" opacity="0.85"/>
<rect x="464.95" y="318.5" width="1.4" height="1.4" fill="#1a9a4c" opacity="0.7"/>
<rect x="462.98" y="321.45" width="1.9" height="1.9" fill="#0e9444" opacity="0.85"/>
<rect x="466.01" y="323.05" width="1.9" height="1.9" fill="#0e9444" opacity="0.7"/>
<rect x="462.76" y="327.6" width="1.2" height="1.2" fill="#22a055" opacity="0.85"/>
<rect x="465.45" y="329.2" width="1.2" height="1.2" fill="#22a055" opacity="0.7"/>
<rect x="463.54" y="335.4" width="1" height="1" fill="#2aa55a" opacity="0.85"/>
<rect x="465.9" y="337" width="1" height="1" fill="#2aa55a" opacity="0.7"/>
<path d="M466.7,297.9 L469.3,297.9 L468.1,313.63 Z" stroke="none" stroke-width="0" fill="#ace2bd" opacity="0.95"/>
<path d="M469.95,333.73 L470.95,333.73 L472.55,381.7 L468.35,381.7 Z" stroke="none" stroke-width="0" fill="#b2e4c2" opacity="0.95"/>
<rect x="468.05" y="361.02" width="1.4" height="20.68" fill="#a6deb8" opacity="0.85"/>
<path d="M467.8,353.85 L468.2,353.85 L468.7,381.7 L467.3,381.7 Z" stroke="none" stroke-width="0" fill="#9cdab0" opacity="0.7"/>
<rect x="468.46" y="316.9" width="1.4" height="1.4" fill="#1a9a4c" opacity="0.85"/>
<rect x="470.29" y="318.5" width="1.4" height="1.4" fill="#1a9a4c" opacity="0.7"/>
<rect x="468.19" y="321.45" width="1.9" height="1.9" fill="#0e9444" opacity="0.85"/>
<rect x="470.53" y="323.05" width="1.9" height="1.9" fill="#0e9444" opacity="0.7"/>
<rect x="467.74" y="327.6" width="1.2" height="1.2" fill="#22a055" opacity="0.85"/>
<rect x="470.61" y="329.2" width="1.2" height="1.2" fill="#22a055" opacity="0.7"/>
<rect x="468.13" y="335.4" width="1" height="1" fill="#2aa55a" opacity="0.85"/>
<rect x="470.98" y="337" width="1" height="1" fill="#2aa55a" opacity="0.7"/>
<path d="M471.65,297.9 L474.25,297.9 L473.05,312.9 Z" stroke="none" stroke-width="0" fill="#ace2bd" opacity="0.95"/>
<path d="M474.9,333.08 L475.9,333.08 L477.5,381.7 L473.3,381.7 Z" stroke="none" stroke-width="0" fill="#b2e4c2" opacity="0.95"/>
<rect x="473" y="353.32" width="1.4" height="28.38" fill="#a6deb8" opacity="0.85"/>
<path d="M472.75,363.31 L473.15,363.31 L473.65,381.7 L472.25,381.7 Z" stroke="none" stroke-width="0" fill="#9cdab0" opacity="0.7"/>
<rect x="472.76" y="316.9" width="1.4" height="1.4" fill="#1a9a4c" opacity="0.85"/>
<rect x="475.55" y="318.5" width="1.4" height="1.4" fill="#1a9a4c" opacity="0.7"/>
<rect x="473.18" y="321.45" width="1.9" height="1.9" fill="#0e9444" opacity="0.85"/>
<rect x="475.91" y="323.05" width="1.9" height="1.9" fill="#0e9444" opacity="0.7"/>
<rect x="472.58" y="327.6" width="1.2" height="1.2" fill="#22a055" opacity="0.85"/>
<rect x="475.55" y="329.2" width="1.2" height="1.2" fill="#22a055" opacity="0.7"/>
<rect x="472.56" y="335.4" width="1" height="1" fill="#2aa55a" opacity="0.85"/>
<rect x="475.52" y="337" width="1" height="1" fill="#2aa55a" opacity="0.7"/>
<path d="M476.6,297.9 L479.2,297.9 L478,312.84 Z" stroke="none" stroke-width="0" fill="#ace2bd" opacity="0.95"/>
<path d="M479.85,335.2 L480.85,335.2 L482.45,381.7 L478.25,381.7 Z" stroke="none" stroke-width="0" fill="#b2e4c2" opacity="0.95"/>
<rect x="477.95" y="360.13" width="1.4" height="21.57" fill="#a6deb8" opacity="0.85"/>
<path d="M477.7,353.47 L478.1,353.47 L478.6,381.7 L477.2,381.7 Z" stroke="none" stroke-width="0" fill="#9cdab0" opacity="0.7"/>
<rect x="478.33" y="316.9" width="1.4" height="1.4" fill="#1a9a4c" opacity="0.85"/>
<rect x="480.11" y="318.5" width="1.4" height="1.4" fill="#1a9a4c" opacity="0.7"/>
<rect x="477.78" y="321.45" width="1.9" height="1.9" fill="#0e9444" opacity="0.85"/>
<rect x="479.83" y="323.05" width="1.9" height="1.9" fill="#0e9444" opacity="0.7"/>
<rect x="477.94" y="327.6" width="1.2" height="1.2" fill="#22a055" opacity="0.85"/>
<rect x="479.7" y="329.2" width="1.2" height="1.2" fill="#22a055" opacity="0.7"/>
<rect x="477.67" y="335.4" width="1" height="1" fill="#2aa55a" opacity="0.85"/>
<rect x="480.51" y="337" width="1" height="1" fill="#2aa55a" opacity="0.7"/>
<path d="M481.55,297.9 L484.15,297.9 L482.95,313.39 Z" stroke="none" stroke-width="0" fill="#ace2bd" opacity="0.95"/>
<path d="M484.8,331.17 L485.8,331.17 L487.4,381.7 L483.2,381.7 Z" stroke="none" stroke-width="0" fill="#b2e4c2" opacity="0.95"/>
<rect x="482.9" y="358.99" width="1.4" height="22.71" fill="#a6deb8" opacity="0.85"/>
<path d="M482.65,356.66 L483.05,356.66 L483.55,381.7 L482.15,381.7 Z" stroke="none" stroke-width="0" fill="#9cdab0" opacity="0.7"/>
<rect x="482.5" y="316.9" width="1.4" height="1.4" fill="#1a9a4c" opacity="0.85"/>
<rect x="485.55" y="318.5" width="1.4" height="1.4" fill="#1a9a4c" opacity="0.7"/>
<rect x="483.14" y="321.45" width="1.9" height="1.9" fill="#0e9444" opacity="0.85"/>
<rect x="485.21" y="323.05" width="1.9" height="1.9" fill="#0e9444" opacity="0.7"/>
<rect x="482.89" y="327.6" width="1.2" height="1.2" fill="#22a055" opacity="0.85"/>
<rect x="485.39" y="329.2" width="1.2" height="1.2" fill="#22a055" opacity="0.7"/>
<rect x="483.01" y="335.4" width="1" height="1" fill="#2aa55a" opacity="0.85"/>
<rect x="485.57" y="337" width="1" height="1" fill="#2aa55a" opacity="0.7"/>
<path d="M486.5,297.9 L489.1,297.9 L487.9,313.51 Z" stroke="none" stroke-width="0" fill="#ace2bd" opacity="0.95"/>
<path d="M489.75,331.4 L490.75,331.4 L492.35,381.7 L488.15,381.7 Z" stroke="none" stroke-width="0" fill="#b2e4c2" opacity="0.95"/>
<rect x="487.85" y="348.29" width="1.4" height="33.41" fill="#a6deb8" opacity="0.85"/>
<path d="M487.6,351.58 L488,351.58 L488.5,381.7 L487.1,381.7 Z" stroke="none" stroke-width="0" fill="#9cdab0" opacity="0.7"/>
<rect x="487.57" y="316.9" width="1.4" height="1.4" fill="#1a9a4c" opacity="0.85"/>
<rect x="490.3" y="318.5" width="1.4" height="1.4" fill="#1a9a4c" opacity="0.7"/>
<rect x="488.35" y="321.45" width="1.9" height="1.9" fill="#0e9444" opacity="0.85"/>
<rect x="490.1" y="323.05" width="1.9" height="1.9" fill="#0e9444" opacity="0.7"/>
<rect x="487.64" y="327.6" width="1.2" height="1.2" fill="#22a055" opacity="0.85"/>
<rect x="490.27" y="329.2" width="1.2" height="1.2" fill="#22a055" opacity="0.7"/>
<rect x="488.34" y="335.4" width="1" height="1" fill="#2aa55a" opacity="0.85"/>
<rect x="490.31" y="337" width="1" height="1" fill="#2aa55a" opacity="0.7"/>
<path d="M491.45,297.9 L494.05,297.9 L492.85,310.67 Z" stroke="none" stroke-width="0" fill="#ace2bd" opacity="0.95"/>
<path d="M494.7,335.3 L495.7,335.3 L497.3,381.7 L493.1,381.7 Z" stroke="none" stroke-width="0" fill="#b2e4c2" opacity="0.95"/>
<rect x="492.8" y="361.89" width="1.4" height="19.81" fill="#a6deb8" opacity="0.85"/>
<path d="M492.55,361.9 L492.95,361.9 L493.45,381.7 L492.05,381.7 Z" stroke="none" stroke-width="0" fill="#9cdab0" opacity="0.7"/>
<rect x="492.63" y="316.9" width="1.4" height="1.4" fill="#1a9a4c" opacity="0.85"/>
<rect x="494.76" y="318.5" width="1.4" height="1.4" fill="#1a9a4c" opacity="0.7"/>
<rect x="492.7" y="321.45" width="1.9" height="1.9" fill="#0e9444" opacity="0.85"/>
<rect x="494.7" y="323.05" width="1.9" height="1.9" fill="#0e9444" opacity="0.7"/>
<rect x="492.31" y="327.6" width="1.2" height="1.2" fill="#22a055" opacity="0.85"/>
<rect x="495.09" y="329.2" width="1.2" height="1.2" fill="#22a055" opacity="0.7"/>
<rect x="493.17" y="335.4" width="1" height="1" fill="#2aa55a" opacity="0.85"/>
<rect x="495.39" y="337" width="1" height="1" fill="#2aa55a" opacity="0.7"/>
<path d="M496.4,297.9 L499,297.9 L497.8,311.41 Z" stroke="none" stroke-width="0" fill="#ace2bd" opacity="0.95"/>
<path d="M499.65,336.68 L500.65,336.68 L502.25,381.7 L498.05,381.7 Z" stroke="none" stroke-width="0" fill="#b2e4c2" opacity="0.95"/>
<rect x="497.75" y="350.5" width="1.4" height="31.2" fill="#a6deb8" opacity="0.85"/>
<path d="M497.5,353.75 L497.9,353.75 L498.4,381.7 L497,381.7 Z" stroke="none" stroke-width="0" fill="#9cdab0" opacity="0.7"/>
<rect x="497.43" y="316.9" width="1.4" height="1.4" fill="#1a9a4c" opacity="0.85"/>
<rect x="500.19" y="318.5" width="1.4" height="1.4" fill="#1a9a4c" opacity="0.7"/>
<rect x="498.17" y="321.45" width="1.9" height="1.9" fill="#0e9444" opacity="0.85"/>
<rect x="499.96" y="323.05" width="1.9" height="1.9" fill="#0e9444" opacity="0.7"/>
<rect x="498.09" y="327.6" width="1.2" height="1.2" fill="#22a055" opacity="0.85"/>
<rect x="500.62" y="329.2" width="1.2" height="1.2" fill="#22a055" opacity="0.7"/>
<rect x="497.68" y="335.4" width="1" height="1" fill="#2aa55a" opacity="0.85"/>
<rect x="500.57" y="337" width="1" height="1" fill="#2aa55a" opacity="0.7"/>
<path d="M501.35,297.9 L503.95,297.9 L502.75,314.24 Z" stroke="none" stroke-width="0" fill="#ace2bd" opacity="0.95"/>
<path d="M504.6,333.33 L505.6,333.33 L507.2,381.7 L503,381.7 Z" stroke="none" stroke-width="0" fill="#b2e4c2" opacity="0.95"/>
<rect x="502.7" y="350.37" width="1.4" height="31.33" fill="#a6deb8" opacity="0.85"/>
<path d="M502.45,351.12 L502.85,351.12 L503.35,381.7 L501.95,381.7 Z" stroke="none" stroke-width="0" fill="#9cdab0" opacity="0.7"/>
<rect x="502.34" y="316.9" width="1.4" height="1.4" fill="#1a9a4c" opacity="0.85"/>
<rect x="505" y="318.5" width="1.4" height="1.4" fill="#1a9a4c" opacity="0.7"/>
<rect x="502.07" y="321.45" width="1.9" height="1.9" fill="#0e9444" opacity="0.85"/>
<rect x="504.85" y="323.05" width="1.9" height="1.9" fill="#0e9444" opacity="0.7"/>
<rect x="502.64" y="327.6" width="1.2" height="1.2" fill="#22a055" opacity="0.85"/>
<rect x="504.85" y="329.2" width="1.2" height="1.2" fill="#22a055" opacity="0.7"/>
<rect x="502.93" y="335.4" width="1" height="1" fill="#2aa55a" opacity="0.85"/>
<rect x="505.13" y="337" width="1" height="1" fill="#2aa55a" opacity="0.7"/>
<path d="M506.3,297.9 L508.9,297.9 L507.7,312.1 Z" stroke="none" stroke-width="0" fill="#ace2bd" opacity="0.95"/>
<path d="M509.55,334.43 L510.55,334.43 L512.15,381.7 L507.95,381.7 Z" stroke="none" stroke-width="0" fill="#b2e4c2" opacity="0.95"/>
<rect x="507.65" y="356.16" width="1.4" height="25.54" fill="#a6deb8" opacity="0.85"/>
<path d="M507.4,356.21 L507.8,356.21 L508.3,381.7 L506.9,381.7 Z" stroke="none" stroke-width="0" fill="#9cdab0" opacity="0.7"/>
<rect x="507.2" y="316.9" width="1.4" height="1.4" fill="#1a9a4c" opacity="0.85"/>
<rect x="510.11" y="318.5" width="1.4" height="1.4" fill="#1a9a4c" opacity="0.7"/>
<rect x="507.06" y="321.45" width="1.9" height="1.9" fill="#0e9444" opacity="0.85"/>
<rect x="509.44" y="323.05" width="1.9" height="1.9" fill="#0e9444" opacity="0.7"/>
<rect x="507.41" y="327.6" width="1.2" height="1.2" fill="#22a055" opacity="0.85"/>
<rect x="509.68" y="329.2" width="1.2" height="1.2" fill="#22a055" opacity="0.7"/>
<rect x="507.91" y="335.4" width="1" height="1" fill="#2aa55a" opacity="0.85"/>
<rect x="509.59" y="337" width="1" height="1" fill="#2aa55a" opacity="0.7"/>
<path d="M511.25,297.9 L513.85,297.9 L512.65,311.53 Z" stroke="none" stroke-width="0" fill="#ace2bd" opacity="0.95"/>
<path d="M514.5,334.87 L515.5,334.87 L517.1,381.7 L512.9,381.7 Z" stroke="none" stroke-width="0" fill="#b2e4c2" opacity="0.95"/>
<rect x="512.6" y="353.85" width="1.4" height="27.85" fill="#a6deb8" opacity="0.85"/>
<path d="M512.35,362.08 L512.75,362.08 L513.25,381.7 L511.85,381.7 Z" stroke="none" stroke-width="0" fill="#9cdab0" opacity="0.7"/>
<rect x="512.09" y="316.9" width="1.4" height="1.4" fill="#1a9a4c" opacity="0.85"/>
<rect x="514.56" y="318.5" width="1.4" height="1.4" fill="#1a9a4c" opacity="0.7"/>
<rect x="512.28" y="321.45" width="1.9" height="1.9" fill="#0e9444" opacity="0.85"/>
<rect x="514.79" y="323.05" width="1.9" height="1.9" fill="#0e9444" opacity="0.7"/>
<rect x="512.62" y="327.6" width="1.2" height="1.2" fill="#22a055" opacity="0.85"/>
<rect x="514.59" y="329.2" width="1.2" height="1.2" fill="#22a055" opacity="0.7"/>
<rect x="512.62" y="335.4" width="1" height="1" fill="#2aa55a" opacity="0.85"/>
<rect x="515.19" y="337" width="1" height="1" fill="#2aa55a" opacity="0.7"/>
<path d="M516.2,297.9 L518.8,297.9 L517.6,312.82 Z" stroke="none" stroke-width="0" fill="#ace2bd" opacity="0.95"/>
<path d="M519.45,335.71 L520.45,335.71 L522.05,381.7 L517.85,381.7 Z" stroke="none" stroke-width="0" fill="#b2e4c2" opacity="0.95"/>
<rect x="517.55" y="349.14" width="1.4" height="32.56" fill="#a6deb8" opacity="0.85"/>
<path d="M517.3,360.17 L517.7,360.17 L518.2,381.7 L516.8,381.7 Z" stroke="none" stroke-width="0" fill="#9cdab0" opacity="0.7"/>
<rect x="517.77" y="316.9" width="1.4" height="1.4" fill="#1a9a4c" opacity="0.85"/>
<rect x="520.29" y="318.5" width="1.4" height="1.4" fill="#1a9a4c" opacity="0.7"/>
<rect x="517.08" y="321.45" width="1.9" height="1.9" fill="#0e9444" opacity="0.85"/>
<rect x="519.4" y="323.05" width="1.9" height="1.9" fill="#0e9444" opacity="0.7"/>
<rect x="517.81" y="327.6" width="1.2" height="1.2" fill="#22a055" opacity="0.85"/>
<rect x="520.08" y="329.2" width="1.2" height="1.2" fill="#22a055" opacity="0.7"/>
<rect x="517.1" y="335.4" width="1" height="1" fill="#2aa55a" opacity="0.85"/>
<rect x="520.35" y="337" width="1" height="1" fill="#2aa55a" opacity="0.7"/>
<path d="M521.15,297.9 L523.75,297.9 L522.55,313.2 Z" stroke="none" stroke-width="0" fill="#ace2bd" opacity="0.95"/>
<path d="M524.4,334.3 L525.4,334.3 L527,381.7 L522.8,381.7 Z" stroke="none" stroke-width="0" fill="#b2e4c2" opacity="0.95"/>
<rect x="522.5" y="358.65" width="1.4" height="23.05" fill="#a6deb8" opacity="0.85"/>
<path d="M522.25,359.17 L522.65,359.17 L523.15,381.7 L521.75,381.7 Z" stroke="none" stroke-width="0" fill="#9cdab0" opacity="0.7"/>
<rect x="522.26" y="316.9" width="1.4" height="1.4" fill="#1a9a4c" opacity="0.85"/>
<rect x="524.31" y="318.5" width="1.4" height="1.4" fill="#1a9a4c" opacity="0.7"/>
<rect x="522.26" y="321.45" width="1.9" height="1.9" fill="#0e9444" opacity="0.85"/>
<rect x="525" y="323.05" width="1.9" height="1.9" fill="#0e9444" opacity="0.7"/>
<rect x="522.08" y="327.6" width="1.2" height="1.2" fill="#22a055" opacity="0.85"/>
<rect x="524.47" y="329.2" width="1.2" height="1.2" fill="#22a055" opacity="0.7"/>
<rect x="521.98" y="335.4" width="1" height="1" fill="#2aa55a" opacity="0.85"/>
<rect x="524.85" y="337" width="1" height="1" fill="#2aa55a" opacity="0.7"/>
<path d="M526.1,297.9 L528.7,297.9 L527.5,314.7 Z" stroke="none" stroke-width="0" fill="#ace2bd" opacity="0.95"/>
<path d="M529.35,335.11 L530.35,335.11 L531.95,381.7 L527.75,381.7 Z" stroke="none" stroke-width="0" fill="#b2e4c2" opacity="0.95"/>
<rect x="527.45" y="348.18" width="1.4" height="33.52" fill="#a6deb8" opacity="0.85"/>
<path d="M527.2,355.65 L527.6,355.65 L528.1,381.7 L526.7,381.7 Z" stroke="none" stroke-width="0" fill="#9cdab0" opacity="0.7"/>
<rect x="527.62" y="316.9" width="1.4" height="1.4" fill="#1a9a4c" opacity="0.85"/>
<rect x="529.32" y="318.5" width="1.4" height="1.4" fill="#1a9a4c" opacity="0.7"/>
<rect x="527.75" y="321.45" width="1.9" height="1.9" fill="#0e9444" opacity="0.85"/>
<rect x="529.48" y="323.05" width="1.9" height="1.9" fill="#0e9444" opacity="0.7"/>
<rect x="527.33" y="327.6" width="1.2" height="1.2" fill="#22a055" opacity="0.85"/>
<rect x="530.15" y="329.2" width="1.2" height="1.2" fill="#22a055" opacity="0.7"/>
<rect x="527.85" y="335.4" width="1" height="1" fill="#2aa55a" opacity="0.85"/>
<rect x="529.3" y="337" width="1" height="1" fill="#2aa55a" opacity="0.7"/>
<rect x="417.1" y="320.6" width="114.6" height="3.6" fill="#14964a" opacity="0.3"/>
<rect x="408.4" y="285.4" width="131.1" height="105.8" fill="none" stroke="#808080" stroke-width="1.2"/>
</svg>
</body></html>
